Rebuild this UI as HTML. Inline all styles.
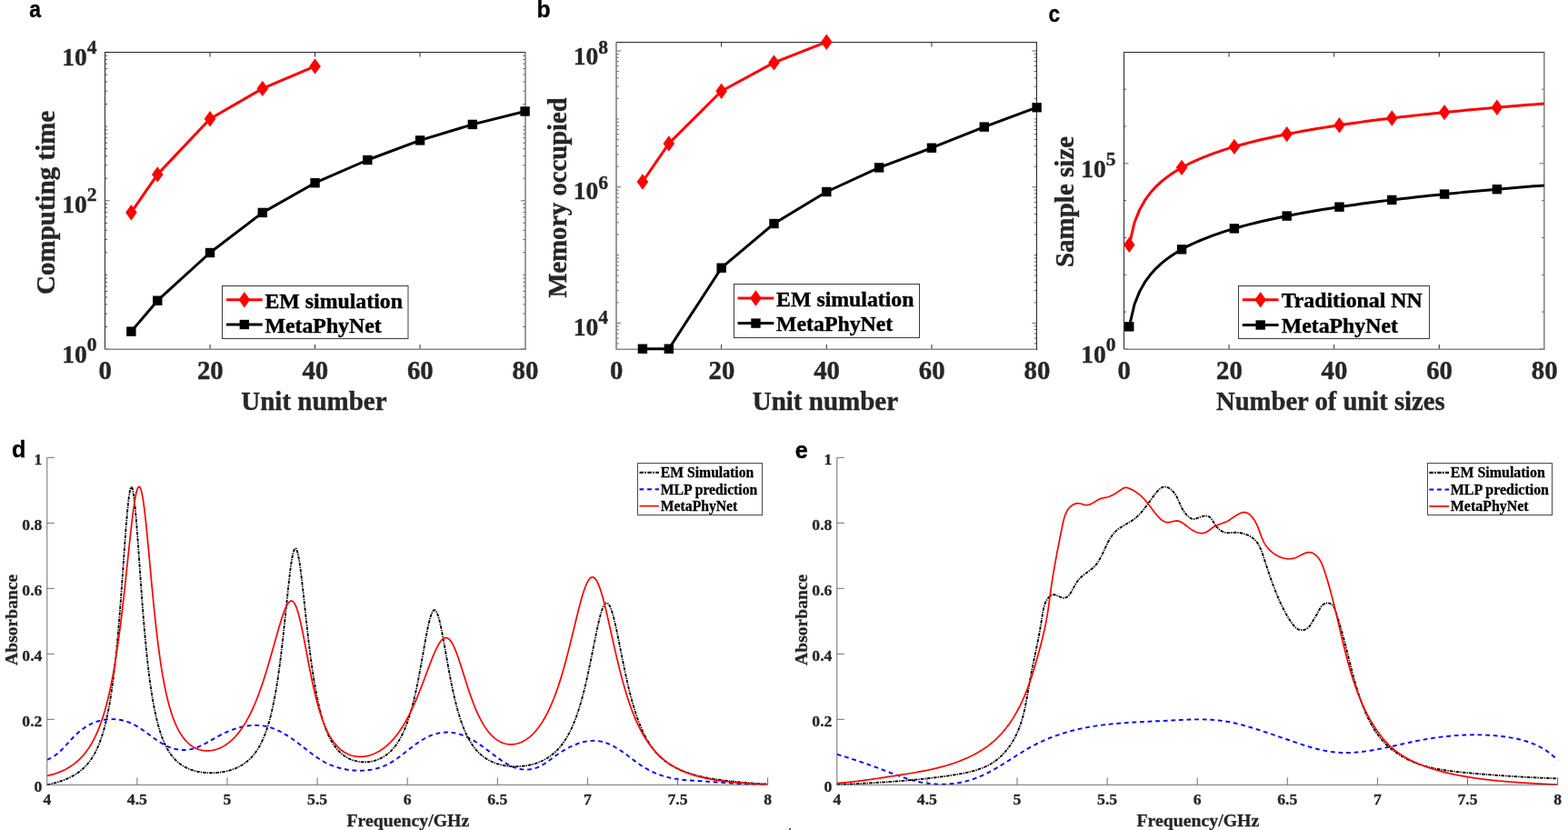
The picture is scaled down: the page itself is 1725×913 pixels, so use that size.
<!DOCTYPE html>
<html lang="en"><head><meta charset="utf-8"><title>Figure</title>
<style>
html,body{margin:0;padding:0;background:#fff;}
body{width:1725px;height:913px;overflow:hidden;}
</style></head>
<body>
<svg width="1725" height="913" viewBox="0 0 1725 913" style="display:block">
<rect width="1725" height="913" fill="#ffffff"/>
<rect x="115.50" y="57.50" width="462.10" height="326.50" fill="#fff" stroke="none"/>
<line x1="231.03" y1="384.00" x2="231.03" y2="379.00" stroke="#262626" stroke-width="1" />
<line x1="231.03" y1="57.50" x2="231.03" y2="62.50" stroke="#262626" stroke-width="1" />
<line x1="346.55" y1="384.00" x2="346.55" y2="379.00" stroke="#262626" stroke-width="1" />
<line x1="346.55" y1="57.50" x2="346.55" y2="62.50" stroke="#262626" stroke-width="1" />
<line x1="462.07" y1="384.00" x2="462.07" y2="379.00" stroke="#262626" stroke-width="1" />
<line x1="462.07" y1="57.50" x2="462.07" y2="62.50" stroke="#262626" stroke-width="1" />
<line x1="115.50" y1="384.00" x2="120.50" y2="384.00" stroke="#7a7a7a" stroke-width="1.2" />
<line x1="578.00" y1="384.00" x2="573.00" y2="384.00" stroke="#7a7a7a" stroke-width="1.2" />
<line x1="115.50" y1="359.43" x2="118.10" y2="359.43" stroke="#262626" stroke-width="0.8" />
<line x1="578.00" y1="359.43" x2="575.40" y2="359.43" stroke="#262626" stroke-width="0.8" />
<line x1="115.50" y1="345.05" x2="118.10" y2="345.05" stroke="#262626" stroke-width="0.8" />
<line x1="578.00" y1="345.05" x2="575.40" y2="345.05" stroke="#262626" stroke-width="0.8" />
<line x1="115.50" y1="334.86" x2="118.10" y2="334.86" stroke="#262626" stroke-width="0.8" />
<line x1="578.00" y1="334.86" x2="575.40" y2="334.86" stroke="#262626" stroke-width="0.8" />
<line x1="115.50" y1="326.95" x2="118.10" y2="326.95" stroke="#262626" stroke-width="0.8" />
<line x1="578.00" y1="326.95" x2="575.40" y2="326.95" stroke="#262626" stroke-width="0.8" />
<line x1="115.50" y1="320.48" x2="118.10" y2="320.48" stroke="#262626" stroke-width="0.8" />
<line x1="578.00" y1="320.48" x2="575.40" y2="320.48" stroke="#262626" stroke-width="0.8" />
<line x1="115.50" y1="315.02" x2="118.10" y2="315.02" stroke="#262626" stroke-width="0.8" />
<line x1="578.00" y1="315.02" x2="575.40" y2="315.02" stroke="#262626" stroke-width="0.8" />
<line x1="115.50" y1="310.29" x2="118.10" y2="310.29" stroke="#262626" stroke-width="0.8" />
<line x1="578.00" y1="310.29" x2="575.40" y2="310.29" stroke="#262626" stroke-width="0.8" />
<line x1="115.50" y1="306.11" x2="118.10" y2="306.11" stroke="#262626" stroke-width="0.8" />
<line x1="578.00" y1="306.11" x2="575.40" y2="306.11" stroke="#262626" stroke-width="0.8" />
<line x1="115.50" y1="302.38" x2="118.10" y2="302.38" stroke="#262626" stroke-width="0.8" />
<line x1="578.00" y1="302.38" x2="575.40" y2="302.38" stroke="#262626" stroke-width="0.8" />
<line x1="115.50" y1="277.80" x2="118.10" y2="277.80" stroke="#262626" stroke-width="0.8" />
<line x1="578.00" y1="277.80" x2="575.40" y2="277.80" stroke="#262626" stroke-width="0.8" />
<line x1="115.50" y1="263.43" x2="118.10" y2="263.43" stroke="#262626" stroke-width="0.8" />
<line x1="578.00" y1="263.43" x2="575.40" y2="263.43" stroke="#262626" stroke-width="0.8" />
<line x1="115.50" y1="253.23" x2="118.10" y2="253.23" stroke="#262626" stroke-width="0.8" />
<line x1="578.00" y1="253.23" x2="575.40" y2="253.23" stroke="#262626" stroke-width="0.8" />
<line x1="115.50" y1="245.32" x2="118.10" y2="245.32" stroke="#262626" stroke-width="0.8" />
<line x1="578.00" y1="245.32" x2="575.40" y2="245.32" stroke="#262626" stroke-width="0.8" />
<line x1="115.50" y1="238.86" x2="118.10" y2="238.86" stroke="#262626" stroke-width="0.8" />
<line x1="578.00" y1="238.86" x2="575.40" y2="238.86" stroke="#262626" stroke-width="0.8" />
<line x1="115.50" y1="233.39" x2="118.10" y2="233.39" stroke="#262626" stroke-width="0.8" />
<line x1="578.00" y1="233.39" x2="575.40" y2="233.39" stroke="#262626" stroke-width="0.8" />
<line x1="115.50" y1="228.66" x2="118.10" y2="228.66" stroke="#262626" stroke-width="0.8" />
<line x1="578.00" y1="228.66" x2="575.40" y2="228.66" stroke="#262626" stroke-width="0.8" />
<line x1="115.50" y1="224.48" x2="118.10" y2="224.48" stroke="#262626" stroke-width="0.8" />
<line x1="578.00" y1="224.48" x2="575.40" y2="224.48" stroke="#262626" stroke-width="0.8" />
<line x1="115.50" y1="220.75" x2="120.50" y2="220.75" stroke="#7a7a7a" stroke-width="1.2" />
<line x1="578.00" y1="220.75" x2="573.00" y2="220.75" stroke="#7a7a7a" stroke-width="1.2" />
<line x1="115.50" y1="196.18" x2="118.10" y2="196.18" stroke="#262626" stroke-width="0.8" />
<line x1="578.00" y1="196.18" x2="575.40" y2="196.18" stroke="#262626" stroke-width="0.8" />
<line x1="115.50" y1="181.80" x2="118.10" y2="181.80" stroke="#262626" stroke-width="0.8" />
<line x1="578.00" y1="181.80" x2="575.40" y2="181.80" stroke="#262626" stroke-width="0.8" />
<line x1="115.50" y1="171.61" x2="118.10" y2="171.61" stroke="#262626" stroke-width="0.8" />
<line x1="578.00" y1="171.61" x2="575.40" y2="171.61" stroke="#262626" stroke-width="0.8" />
<line x1="115.50" y1="163.70" x2="118.10" y2="163.70" stroke="#262626" stroke-width="0.8" />
<line x1="578.00" y1="163.70" x2="575.40" y2="163.70" stroke="#262626" stroke-width="0.8" />
<line x1="115.50" y1="157.23" x2="118.10" y2="157.23" stroke="#262626" stroke-width="0.8" />
<line x1="578.00" y1="157.23" x2="575.40" y2="157.23" stroke="#262626" stroke-width="0.8" />
<line x1="115.50" y1="151.77" x2="118.10" y2="151.77" stroke="#262626" stroke-width="0.8" />
<line x1="578.00" y1="151.77" x2="575.40" y2="151.77" stroke="#262626" stroke-width="0.8" />
<line x1="115.50" y1="147.04" x2="118.10" y2="147.04" stroke="#262626" stroke-width="0.8" />
<line x1="578.00" y1="147.04" x2="575.40" y2="147.04" stroke="#262626" stroke-width="0.8" />
<line x1="115.50" y1="142.86" x2="118.10" y2="142.86" stroke="#262626" stroke-width="0.8" />
<line x1="578.00" y1="142.86" x2="575.40" y2="142.86" stroke="#262626" stroke-width="0.8" />
<line x1="115.50" y1="139.12" x2="118.10" y2="139.12" stroke="#262626" stroke-width="0.8" />
<line x1="578.00" y1="139.12" x2="575.40" y2="139.12" stroke="#262626" stroke-width="0.8" />
<line x1="115.50" y1="114.55" x2="118.10" y2="114.55" stroke="#262626" stroke-width="0.8" />
<line x1="578.00" y1="114.55" x2="575.40" y2="114.55" stroke="#262626" stroke-width="0.8" />
<line x1="115.50" y1="100.18" x2="118.10" y2="100.18" stroke="#262626" stroke-width="0.8" />
<line x1="578.00" y1="100.18" x2="575.40" y2="100.18" stroke="#262626" stroke-width="0.8" />
<line x1="115.50" y1="89.98" x2="118.10" y2="89.98" stroke="#262626" stroke-width="0.8" />
<line x1="578.00" y1="89.98" x2="575.40" y2="89.98" stroke="#262626" stroke-width="0.8" />
<line x1="115.50" y1="82.07" x2="118.10" y2="82.07" stroke="#262626" stroke-width="0.8" />
<line x1="578.00" y1="82.07" x2="575.40" y2="82.07" stroke="#262626" stroke-width="0.8" />
<line x1="115.50" y1="75.61" x2="118.10" y2="75.61" stroke="#262626" stroke-width="0.8" />
<line x1="578.00" y1="75.61" x2="575.40" y2="75.61" stroke="#262626" stroke-width="0.8" />
<line x1="115.50" y1="70.14" x2="118.10" y2="70.14" stroke="#262626" stroke-width="0.8" />
<line x1="578.00" y1="70.14" x2="575.40" y2="70.14" stroke="#262626" stroke-width="0.8" />
<line x1="115.50" y1="65.41" x2="118.10" y2="65.41" stroke="#262626" stroke-width="0.8" />
<line x1="578.00" y1="65.41" x2="575.40" y2="65.41" stroke="#262626" stroke-width="0.8" />
<line x1="115.50" y1="61.23" x2="118.10" y2="61.23" stroke="#262626" stroke-width="0.8" />
<line x1="578.00" y1="61.23" x2="575.40" y2="61.23" stroke="#262626" stroke-width="0.8" />
<line x1="115.50" y1="57.50" x2="120.50" y2="57.50" stroke="#7a7a7a" stroke-width="1.2" />
<line x1="578.00" y1="57.50" x2="573.00" y2="57.50" stroke="#7a7a7a" stroke-width="1.2" />
<line x1="115.00" y1="57.50" x2="578.50" y2="57.50" stroke="#262626" stroke-width="1" />
<line x1="115.50" y1="57.50" x2="115.50" y2="384.50" stroke="#262626" stroke-width="1" />
<line x1="115.00" y1="384.25" x2="578.90" y2="384.25" stroke="#8a8a8a" stroke-width="1.5" />
<line x1="578.00" y1="57.50" x2="578.00" y2="384.90" stroke="#8a8a8a" stroke-width="1.7" />
<text x="115.80" y="417.00" font-family='"Liberation Serif", "DejaVu Serif", serif' font-size="28.8" font-weight="bold" text-anchor="middle" fill="#262626" stroke="#262626" stroke-width="0.4" stroke-linejoin="round" >0</text>
<text x="231.33" y="417.00" font-family='"Liberation Serif", "DejaVu Serif", serif' font-size="28.8" font-weight="bold" text-anchor="middle" fill="#262626" stroke="#262626" stroke-width="0.4" stroke-linejoin="round" >20</text>
<text x="346.85" y="417.00" font-family='"Liberation Serif", "DejaVu Serif", serif' font-size="28.8" font-weight="bold" text-anchor="middle" fill="#262626" stroke="#262626" stroke-width="0.4" stroke-linejoin="round" >40</text>
<text x="462.38" y="417.00" font-family='"Liberation Serif", "DejaVu Serif", serif' font-size="28.8" font-weight="bold" text-anchor="middle" fill="#262626" stroke="#262626" stroke-width="0.4" stroke-linejoin="round" >60</text>
<text x="577.90" y="417.00" font-family='"Liberation Serif", "DejaVu Serif", serif' font-size="28.8" font-weight="bold" text-anchor="middle" fill="#262626" stroke="#262626" stroke-width="0.4" stroke-linejoin="round" >80</text>
<text x="106.50" y="71.65" font-family='"Liberation Serif", "DejaVu Serif", serif' font-weight="bold" text-anchor="end" fill="#262626" stroke="#262626" stroke-width="0.4" stroke-linejoin="round" font-size="27.5">10<tspan font-size="21.5" dy="-13.0">4</tspan></text>
<text x="106.50" y="234.20" font-family='"Liberation Serif", "DejaVu Serif", serif' font-weight="bold" text-anchor="end" fill="#262626" stroke="#262626" stroke-width="0.4" stroke-linejoin="round" font-size="27.5">10<tspan font-size="21.5" dy="-13.4">2</tspan></text>
<text x="106.50" y="399.30" font-family='"Liberation Serif", "DejaVu Serif", serif' font-weight="bold" text-anchor="end" fill="#262626" stroke="#262626" stroke-width="0.4" stroke-linejoin="round" font-size="27.5">10<tspan font-size="21.5" dy="-13.0">0</tspan></text>
<text x="345.45" y="451.30" font-family='"Liberation Serif", "DejaVu Serif", serif' font-size="29" font-weight="bold" text-anchor="middle" fill="#262626" stroke="#262626" stroke-width="0.4" stroke-linejoin="round" >Unit number</text>
<text transform="translate(59.80 222.80) rotate(-90)" font-family='"Liberation Serif", "DejaVu Serif", serif' font-size="29" font-weight="bold" text-anchor="middle" fill="#262626" stroke="#262626" stroke-width="0.4" stroke-linejoin="round">Computing time</text>
<path d="M144.38 233.70L173.26 191.90L231.03 130.70L288.79 97.40L346.55 72.90" fill="none" stroke="#ff0000" stroke-width="3.0" stroke-linejoin="round" />
<path d="M144.38 364.60L173.26 330.70L231.03 278.00L288.79 233.90L346.55 201.20L404.31 176.00L462.07 154.40L519.84 136.90L577.60 122.50" fill="none" stroke="#000000" stroke-width="3.0" stroke-linejoin="round" />
<path d="M144.38 225.00L150.68 233.70L144.38 242.40L138.08 233.70Z" fill="#ff0000"/>
<path d="M173.26 183.20L179.56 191.90L173.26 200.60L166.96 191.90Z" fill="#ff0000"/>
<path d="M231.03 122.00L237.33 130.70L231.03 139.40L224.72 130.70Z" fill="#ff0000"/>
<path d="M288.79 88.70L295.09 97.40L288.79 106.10L282.49 97.40Z" fill="#ff0000"/>
<path d="M346.55 64.20L352.85 72.90L346.55 81.60L340.25 72.90Z" fill="#ff0000"/>
<rect x="139.18" y="359.40" width="10.40" height="10.40" fill="#000000"/>
<rect x="168.06" y="325.50" width="10.40" height="10.40" fill="#000000"/>
<rect x="225.83" y="272.80" width="10.40" height="10.40" fill="#000000"/>
<rect x="283.59" y="228.70" width="10.40" height="10.40" fill="#000000"/>
<rect x="341.35" y="196.00" width="10.40" height="10.40" fill="#000000"/>
<rect x="399.11" y="170.80" width="10.40" height="10.40" fill="#000000"/>
<rect x="456.88" y="149.20" width="10.40" height="10.40" fill="#000000"/>
<rect x="514.64" y="131.70" width="10.40" height="10.40" fill="#000000"/>
<rect x="572.40" y="117.30" width="10.40" height="10.40" fill="#000000"/>
<rect x="244.50" y="314.50" width="204.50" height="58.00" fill="#fff" stroke="#262626" stroke-width="0.9"/>
<line x1="249.00" y1="329.80" x2="288.70" y2="329.80" stroke="#ff0000" stroke-width="3.0" />
<path d="M268.85 321.10L275.15 329.80L268.85 338.50L262.55 329.80Z" fill="#ff0000"/>
<text x="291.50" y="338.50" font-family='"Liberation Serif", "DejaVu Serif", serif' font-size="23.8" font-weight="bold" text-anchor="start" fill="#000" stroke="#000" stroke-width="0.4" stroke-linejoin="round" >EM simulation</text>
<line x1="249.00" y1="357.00" x2="288.70" y2="357.00" stroke="#000000" stroke-width="3.0" />
<rect x="263.65" y="351.80" width="10.40" height="10.40" fill="#000000"/>
<text x="291.50" y="365.70" font-family='"Liberation Serif", "DejaVu Serif", serif' font-size="23.8" font-weight="bold" text-anchor="start" fill="#000" stroke="#000" stroke-width="0.4" stroke-linejoin="round" >MetaPhyNet</text>
<rect x="678.00" y="46.50" width="462.60" height="337.50" fill="#fff" stroke="none"/>
<line x1="793.65" y1="384.00" x2="793.65" y2="379.00" stroke="#262626" stroke-width="1" />
<line x1="793.65" y1="46.50" x2="793.65" y2="51.50" stroke="#262626" stroke-width="1" />
<line x1="909.30" y1="384.00" x2="909.30" y2="379.00" stroke="#262626" stroke-width="1" />
<line x1="909.30" y1="46.50" x2="909.30" y2="51.50" stroke="#262626" stroke-width="1" />
<line x1="1024.95" y1="384.00" x2="1024.95" y2="379.00" stroke="#262626" stroke-width="1" />
<line x1="1024.95" y1="46.50" x2="1024.95" y2="51.50" stroke="#262626" stroke-width="1" />
<line x1="678.00" y1="377.93" x2="680.60" y2="377.93" stroke="#262626" stroke-width="0.8" />
<line x1="1140.50" y1="377.93" x2="1137.90" y2="377.93" stroke="#262626" stroke-width="0.8" />
<line x1="678.00" y1="372.01" x2="680.60" y2="372.01" stroke="#262626" stroke-width="0.8" />
<line x1="1140.50" y1="372.01" x2="1137.90" y2="372.01" stroke="#262626" stroke-width="0.8" />
<line x1="678.00" y1="366.99" x2="680.60" y2="366.99" stroke="#262626" stroke-width="0.8" />
<line x1="1140.50" y1="366.99" x2="1137.90" y2="366.99" stroke="#262626" stroke-width="0.8" />
<line x1="678.00" y1="362.65" x2="680.60" y2="362.65" stroke="#262626" stroke-width="0.8" />
<line x1="1140.50" y1="362.65" x2="1137.90" y2="362.65" stroke="#262626" stroke-width="0.8" />
<line x1="678.00" y1="358.82" x2="680.60" y2="358.82" stroke="#262626" stroke-width="0.8" />
<line x1="1140.50" y1="358.82" x2="1137.90" y2="358.82" stroke="#262626" stroke-width="0.8" />
<line x1="678.00" y1="355.40" x2="683.00" y2="355.40" stroke="#7a7a7a" stroke-width="1.2" />
<line x1="1140.50" y1="355.40" x2="1135.50" y2="355.40" stroke="#7a7a7a" stroke-width="1.2" />
<line x1="678.00" y1="332.87" x2="680.60" y2="332.87" stroke="#262626" stroke-width="0.8" />
<line x1="1140.50" y1="332.87" x2="1137.90" y2="332.87" stroke="#262626" stroke-width="0.8" />
<line x1="678.00" y1="319.69" x2="680.60" y2="319.69" stroke="#262626" stroke-width="0.8" />
<line x1="1140.50" y1="319.69" x2="1137.90" y2="319.69" stroke="#262626" stroke-width="0.8" />
<line x1="678.00" y1="310.34" x2="680.60" y2="310.34" stroke="#262626" stroke-width="0.8" />
<line x1="1140.50" y1="310.34" x2="1137.90" y2="310.34" stroke="#262626" stroke-width="0.8" />
<line x1="678.00" y1="303.08" x2="680.60" y2="303.08" stroke="#262626" stroke-width="0.8" />
<line x1="1140.50" y1="303.08" x2="1137.90" y2="303.08" stroke="#262626" stroke-width="0.8" />
<line x1="678.00" y1="297.16" x2="680.60" y2="297.16" stroke="#262626" stroke-width="0.8" />
<line x1="1140.50" y1="297.16" x2="1137.90" y2="297.16" stroke="#262626" stroke-width="0.8" />
<line x1="678.00" y1="292.14" x2="680.60" y2="292.14" stroke="#262626" stroke-width="0.8" />
<line x1="1140.50" y1="292.14" x2="1137.90" y2="292.14" stroke="#262626" stroke-width="0.8" />
<line x1="678.00" y1="287.80" x2="680.60" y2="287.80" stroke="#262626" stroke-width="0.8" />
<line x1="1140.50" y1="287.80" x2="1137.90" y2="287.80" stroke="#262626" stroke-width="0.8" />
<line x1="678.00" y1="283.97" x2="680.60" y2="283.97" stroke="#262626" stroke-width="0.8" />
<line x1="1140.50" y1="283.97" x2="1137.90" y2="283.97" stroke="#262626" stroke-width="0.8" />
<line x1="678.00" y1="280.55" x2="680.60" y2="280.55" stroke="#262626" stroke-width="0.8" />
<line x1="1140.50" y1="280.55" x2="1137.90" y2="280.55" stroke="#262626" stroke-width="0.8" />
<line x1="678.00" y1="258.02" x2="680.60" y2="258.02" stroke="#262626" stroke-width="0.8" />
<line x1="1140.50" y1="258.02" x2="1137.90" y2="258.02" stroke="#262626" stroke-width="0.8" />
<line x1="678.00" y1="244.84" x2="680.60" y2="244.84" stroke="#262626" stroke-width="0.8" />
<line x1="1140.50" y1="244.84" x2="1137.90" y2="244.84" stroke="#262626" stroke-width="0.8" />
<line x1="678.00" y1="235.49" x2="680.60" y2="235.49" stroke="#262626" stroke-width="0.8" />
<line x1="1140.50" y1="235.49" x2="1137.90" y2="235.49" stroke="#262626" stroke-width="0.8" />
<line x1="678.00" y1="228.23" x2="680.60" y2="228.23" stroke="#262626" stroke-width="0.8" />
<line x1="1140.50" y1="228.23" x2="1137.90" y2="228.23" stroke="#262626" stroke-width="0.8" />
<line x1="678.00" y1="222.31" x2="680.60" y2="222.31" stroke="#262626" stroke-width="0.8" />
<line x1="1140.50" y1="222.31" x2="1137.90" y2="222.31" stroke="#262626" stroke-width="0.8" />
<line x1="678.00" y1="217.29" x2="680.60" y2="217.29" stroke="#262626" stroke-width="0.8" />
<line x1="1140.50" y1="217.29" x2="1137.90" y2="217.29" stroke="#262626" stroke-width="0.8" />
<line x1="678.00" y1="212.95" x2="680.60" y2="212.95" stroke="#262626" stroke-width="0.8" />
<line x1="1140.50" y1="212.95" x2="1137.90" y2="212.95" stroke="#262626" stroke-width="0.8" />
<line x1="678.00" y1="209.12" x2="680.60" y2="209.12" stroke="#262626" stroke-width="0.8" />
<line x1="1140.50" y1="209.12" x2="1137.90" y2="209.12" stroke="#262626" stroke-width="0.8" />
<line x1="678.00" y1="205.70" x2="683.00" y2="205.70" stroke="#7a7a7a" stroke-width="1.2" />
<line x1="1140.50" y1="205.70" x2="1135.50" y2="205.70" stroke="#7a7a7a" stroke-width="1.2" />
<line x1="678.00" y1="183.17" x2="680.60" y2="183.17" stroke="#262626" stroke-width="0.8" />
<line x1="1140.50" y1="183.17" x2="1137.90" y2="183.17" stroke="#262626" stroke-width="0.8" />
<line x1="678.00" y1="169.99" x2="680.60" y2="169.99" stroke="#262626" stroke-width="0.8" />
<line x1="1140.50" y1="169.99" x2="1137.90" y2="169.99" stroke="#262626" stroke-width="0.8" />
<line x1="678.00" y1="160.64" x2="680.60" y2="160.64" stroke="#262626" stroke-width="0.8" />
<line x1="1140.50" y1="160.64" x2="1137.90" y2="160.64" stroke="#262626" stroke-width="0.8" />
<line x1="678.00" y1="153.38" x2="680.60" y2="153.38" stroke="#262626" stroke-width="0.8" />
<line x1="1140.50" y1="153.38" x2="1137.90" y2="153.38" stroke="#262626" stroke-width="0.8" />
<line x1="678.00" y1="147.46" x2="680.60" y2="147.46" stroke="#262626" stroke-width="0.8" />
<line x1="1140.50" y1="147.46" x2="1137.90" y2="147.46" stroke="#262626" stroke-width="0.8" />
<line x1="678.00" y1="142.44" x2="680.60" y2="142.44" stroke="#262626" stroke-width="0.8" />
<line x1="1140.50" y1="142.44" x2="1137.90" y2="142.44" stroke="#262626" stroke-width="0.8" />
<line x1="678.00" y1="138.10" x2="680.60" y2="138.10" stroke="#262626" stroke-width="0.8" />
<line x1="1140.50" y1="138.10" x2="1137.90" y2="138.10" stroke="#262626" stroke-width="0.8" />
<line x1="678.00" y1="134.27" x2="680.60" y2="134.27" stroke="#262626" stroke-width="0.8" />
<line x1="1140.50" y1="134.27" x2="1137.90" y2="134.27" stroke="#262626" stroke-width="0.8" />
<line x1="678.00" y1="130.85" x2="680.60" y2="130.85" stroke="#262626" stroke-width="0.8" />
<line x1="1140.50" y1="130.85" x2="1137.90" y2="130.85" stroke="#262626" stroke-width="0.8" />
<line x1="678.00" y1="108.32" x2="680.60" y2="108.32" stroke="#262626" stroke-width="0.8" />
<line x1="1140.50" y1="108.32" x2="1137.90" y2="108.32" stroke="#262626" stroke-width="0.8" />
<line x1="678.00" y1="95.14" x2="680.60" y2="95.14" stroke="#262626" stroke-width="0.8" />
<line x1="1140.50" y1="95.14" x2="1137.90" y2="95.14" stroke="#262626" stroke-width="0.8" />
<line x1="678.00" y1="85.79" x2="680.60" y2="85.79" stroke="#262626" stroke-width="0.8" />
<line x1="1140.50" y1="85.79" x2="1137.90" y2="85.79" stroke="#262626" stroke-width="0.8" />
<line x1="678.00" y1="78.53" x2="680.60" y2="78.53" stroke="#262626" stroke-width="0.8" />
<line x1="1140.50" y1="78.53" x2="1137.90" y2="78.53" stroke="#262626" stroke-width="0.8" />
<line x1="678.00" y1="72.61" x2="680.60" y2="72.61" stroke="#262626" stroke-width="0.8" />
<line x1="1140.50" y1="72.61" x2="1137.90" y2="72.61" stroke="#262626" stroke-width="0.8" />
<line x1="678.00" y1="67.59" x2="680.60" y2="67.59" stroke="#262626" stroke-width="0.8" />
<line x1="1140.50" y1="67.59" x2="1137.90" y2="67.59" stroke="#262626" stroke-width="0.8" />
<line x1="678.00" y1="63.25" x2="680.60" y2="63.25" stroke="#262626" stroke-width="0.8" />
<line x1="1140.50" y1="63.25" x2="1137.90" y2="63.25" stroke="#262626" stroke-width="0.8" />
<line x1="678.00" y1="59.42" x2="680.60" y2="59.42" stroke="#262626" stroke-width="0.8" />
<line x1="1140.50" y1="59.42" x2="1137.90" y2="59.42" stroke="#262626" stroke-width="0.8" />
<line x1="678.00" y1="56.00" x2="683.00" y2="56.00" stroke="#7a7a7a" stroke-width="1.2" />
<line x1="1140.50" y1="56.00" x2="1135.50" y2="56.00" stroke="#7a7a7a" stroke-width="1.2" />
<line x1="677.50" y1="46.50" x2="1141.00" y2="46.50" stroke="#262626" stroke-width="1" />
<line x1="678.00" y1="46.50" x2="678.00" y2="384.50" stroke="#8a8a8a" stroke-width="1.7" />
<line x1="677.50" y1="384.25" x2="1141.40" y2="384.25" stroke="#8a8a8a" stroke-width="1.5" />
<line x1="1140.50" y1="46.50" x2="1140.50" y2="384.90" stroke="#262626" stroke-width="1" />
<text x="678.30" y="417.00" font-family='"Liberation Serif", "DejaVu Serif", serif' font-size="28.8" font-weight="bold" text-anchor="middle" fill="#262626" stroke="#262626" stroke-width="0.4" stroke-linejoin="round" >0</text>
<text x="793.95" y="417.00" font-family='"Liberation Serif", "DejaVu Serif", serif' font-size="28.8" font-weight="bold" text-anchor="middle" fill="#262626" stroke="#262626" stroke-width="0.4" stroke-linejoin="round" >20</text>
<text x="909.60" y="417.00" font-family='"Liberation Serif", "DejaVu Serif", serif' font-size="28.8" font-weight="bold" text-anchor="middle" fill="#262626" stroke="#262626" stroke-width="0.4" stroke-linejoin="round" >40</text>
<text x="1025.25" y="417.00" font-family='"Liberation Serif", "DejaVu Serif", serif' font-size="28.8" font-weight="bold" text-anchor="middle" fill="#262626" stroke="#262626" stroke-width="0.4" stroke-linejoin="round" >60</text>
<text x="1140.90" y="417.00" font-family='"Liberation Serif", "DejaVu Serif", serif' font-size="28.8" font-weight="bold" text-anchor="middle" fill="#262626" stroke="#262626" stroke-width="0.4" stroke-linejoin="round" >80</text>
<text x="669.00" y="71.40" font-family='"Liberation Serif", "DejaVu Serif", serif' font-weight="bold" text-anchor="end" fill="#262626" stroke="#262626" stroke-width="0.4" stroke-linejoin="round" font-size="27.5">10<tspan font-size="21.5" dy="-12.3">8</tspan></text>
<text x="669.00" y="218.96" font-family='"Liberation Serif", "DejaVu Serif", serif' font-weight="bold" text-anchor="end" fill="#262626" stroke="#262626" stroke-width="0.4" stroke-linejoin="round" font-size="27.5">10<tspan font-size="21.5" dy="-11.4">6</tspan></text>
<text x="669.00" y="368.60" font-family='"Liberation Serif", "DejaVu Serif", serif' font-weight="bold" text-anchor="end" fill="#262626" stroke="#262626" stroke-width="0.4" stroke-linejoin="round" font-size="27.5">10<tspan font-size="21.5" dy="-13.1">4</tspan></text>
<text x="907.90" y="451.30" font-family='"Liberation Serif", "DejaVu Serif", serif' font-size="29" font-weight="bold" text-anchor="middle" fill="#262626" stroke="#262626" stroke-width="0.4" stroke-linejoin="round" >Unit number</text>
<text transform="translate(622.80 217.40) rotate(-90)" font-family='"Liberation Serif", "DejaVu Serif", serif' font-size="29" font-weight="bold" text-anchor="middle" fill="#262626" stroke="#262626" stroke-width="0.4" stroke-linejoin="round" textLength="220.2" lengthAdjust="spacingAndGlyphs">Memory occupied</text>
<path d="M706.91 200.00L735.83 157.90L793.65 100.30L851.47 68.90L909.30 46.20" fill="none" stroke="#ff0000" stroke-width="3.0" stroke-linejoin="round" />
<path d="M706.91 383.70L735.83 383.70L793.65 294.70L851.47 246.00L909.30 211.00L967.12 184.40L1024.95 162.70L1082.77 139.60L1140.60 118.20" fill="none" stroke="#000000" stroke-width="3.0" stroke-linejoin="round" />
<path d="M706.91 191.30L713.21 200.00L706.91 208.70L700.61 200.00Z" fill="#ff0000"/>
<path d="M735.83 149.20L742.12 157.90L735.83 166.60L729.53 157.90Z" fill="#ff0000"/>
<path d="M793.65 91.60L799.95 100.30L793.65 109.00L787.35 100.30Z" fill="#ff0000"/>
<path d="M851.47 60.20L857.77 68.90L851.47 77.60L845.17 68.90Z" fill="#ff0000"/>
<path d="M909.30 37.50L915.60 46.20L909.30 54.90L903.00 46.20Z" fill="#ff0000"/>
<rect x="701.71" y="378.50" width="10.40" height="10.40" fill="#000000"/>
<rect x="730.62" y="378.50" width="10.40" height="10.40" fill="#000000"/>
<rect x="788.45" y="289.50" width="10.40" height="10.40" fill="#000000"/>
<rect x="846.27" y="240.80" width="10.40" height="10.40" fill="#000000"/>
<rect x="904.10" y="205.80" width="10.40" height="10.40" fill="#000000"/>
<rect x="961.92" y="179.20" width="10.40" height="10.40" fill="#000000"/>
<rect x="1019.75" y="157.50" width="10.40" height="10.40" fill="#000000"/>
<rect x="1077.57" y="134.40" width="10.40" height="10.40" fill="#000000"/>
<rect x="1135.40" y="113.00" width="10.40" height="10.40" fill="#000000"/>
<rect x="807.50" y="312.50" width="204.00" height="59.00" fill="#fff" stroke="#262626" stroke-width="0.9"/>
<line x1="811.60" y1="328.00" x2="851.30" y2="328.00" stroke="#ff0000" stroke-width="3.0" />
<path d="M831.45 319.30L837.75 328.00L831.45 336.70L825.15 328.00Z" fill="#ff0000"/>
<text x="854.10" y="336.70" font-family='"Liberation Serif", "DejaVu Serif", serif' font-size="23.8" font-weight="bold" text-anchor="start" fill="#000" stroke="#000" stroke-width="0.4" stroke-linejoin="round" >EM simulation</text>
<line x1="811.60" y1="355.60" x2="851.30" y2="355.60" stroke="#000000" stroke-width="3.0" />
<rect x="826.25" y="350.40" width="10.40" height="10.40" fill="#000000"/>
<text x="854.10" y="364.30" font-family='"Liberation Serif", "DejaVu Serif", serif' font-size="23.8" font-weight="bold" text-anchor="start" fill="#000" stroke="#000" stroke-width="0.4" stroke-linejoin="round" >MetaPhyNet</text>
<rect x="1236.50" y="57.50" width="462.40" height="326.50" fill="#fff" stroke="none"/>
<line x1="1352.10" y1="384.00" x2="1352.10" y2="379.00" stroke="#262626" stroke-width="1" />
<line x1="1352.10" y1="57.50" x2="1352.10" y2="62.50" stroke="#262626" stroke-width="1" />
<line x1="1467.70" y1="384.00" x2="1467.70" y2="379.00" stroke="#262626" stroke-width="1" />
<line x1="1467.70" y1="57.50" x2="1467.70" y2="62.50" stroke="#262626" stroke-width="1" />
<line x1="1583.30" y1="384.00" x2="1583.30" y2="379.00" stroke="#262626" stroke-width="1" />
<line x1="1583.30" y1="57.50" x2="1583.30" y2="62.50" stroke="#262626" stroke-width="1" />
<line x1="1236.50" y1="383.90" x2="1241.50" y2="383.90" stroke="#7a7a7a" stroke-width="1.2" />
<line x1="1698.80" y1="383.90" x2="1693.80" y2="383.90" stroke="#7a7a7a" stroke-width="1.2" />
<line x1="1236.50" y1="343.08" x2="1239.10" y2="343.08" stroke="#262626" stroke-width="0.8" />
<line x1="1698.80" y1="343.08" x2="1696.20" y2="343.08" stroke="#262626" stroke-width="0.8" />
<line x1="1236.50" y1="302.26" x2="1239.10" y2="302.26" stroke="#262626" stroke-width="0.8" />
<line x1="1698.80" y1="302.26" x2="1696.20" y2="302.26" stroke="#262626" stroke-width="0.8" />
<line x1="1236.50" y1="261.44" x2="1239.10" y2="261.44" stroke="#262626" stroke-width="0.8" />
<line x1="1698.80" y1="261.44" x2="1696.20" y2="261.44" stroke="#262626" stroke-width="0.8" />
<line x1="1236.50" y1="220.62" x2="1239.10" y2="220.62" stroke="#262626" stroke-width="0.8" />
<line x1="1698.80" y1="220.62" x2="1696.20" y2="220.62" stroke="#262626" stroke-width="0.8" />
<line x1="1236.50" y1="179.80" x2="1241.50" y2="179.80" stroke="#7a7a7a" stroke-width="1.2" />
<line x1="1698.80" y1="179.80" x2="1693.80" y2="179.80" stroke="#7a7a7a" stroke-width="1.2" />
<line x1="1236.50" y1="138.98" x2="1239.10" y2="138.98" stroke="#262626" stroke-width="0.8" />
<line x1="1698.80" y1="138.98" x2="1696.20" y2="138.98" stroke="#262626" stroke-width="0.8" />
<line x1="1236.50" y1="98.16" x2="1239.10" y2="98.16" stroke="#262626" stroke-width="0.8" />
<line x1="1698.80" y1="98.16" x2="1696.20" y2="98.16" stroke="#262626" stroke-width="0.8" />
<line x1="1236.00" y1="57.50" x2="1699.30" y2="57.50" stroke="#262626" stroke-width="1" />
<line x1="1236.50" y1="57.50" x2="1236.50" y2="384.50" stroke="#262626" stroke-width="1" />
<line x1="1236.00" y1="384.25" x2="1699.70" y2="384.25" stroke="#8a8a8a" stroke-width="1.5" />
<line x1="1698.80" y1="57.50" x2="1698.80" y2="384.90" stroke="#8a8a8a" stroke-width="1.7" />
<text x="1236.80" y="417.00" font-family='"Liberation Serif", "DejaVu Serif", serif' font-size="28.8" font-weight="bold" text-anchor="middle" fill="#262626" stroke="#262626" stroke-width="0.4" stroke-linejoin="round" >0</text>
<text x="1352.40" y="417.00" font-family='"Liberation Serif", "DejaVu Serif", serif' font-size="28.8" font-weight="bold" text-anchor="middle" fill="#262626" stroke="#262626" stroke-width="0.4" stroke-linejoin="round" >20</text>
<text x="1468.00" y="417.00" font-family='"Liberation Serif", "DejaVu Serif", serif' font-size="28.8" font-weight="bold" text-anchor="middle" fill="#262626" stroke="#262626" stroke-width="0.4" stroke-linejoin="round" >40</text>
<text x="1583.60" y="417.00" font-family='"Liberation Serif", "DejaVu Serif", serif' font-size="28.8" font-weight="bold" text-anchor="middle" fill="#262626" stroke="#262626" stroke-width="0.4" stroke-linejoin="round" >60</text>
<text x="1699.20" y="417.00" font-family='"Liberation Serif", "DejaVu Serif", serif' font-size="28.8" font-weight="bold" text-anchor="middle" fill="#262626" stroke="#262626" stroke-width="0.4" stroke-linejoin="round" >80</text>
<text x="1227.50" y="195.00" font-family='"Liberation Serif", "DejaVu Serif", serif' font-weight="bold" text-anchor="end" fill="#262626" stroke="#262626" stroke-width="0.4" stroke-linejoin="round" font-size="27.5">10<tspan font-size="21.5" dy="-12.6">5</tspan></text>
<text x="1227.50" y="399.10" font-family='"Liberation Serif", "DejaVu Serif", serif' font-weight="bold" text-anchor="end" fill="#262626" stroke="#262626" stroke-width="0.4" stroke-linejoin="round" font-size="27.5">10<tspan font-size="21.5" dy="-12.8">0</tspan></text>
<text x="1463.80" y="451.30" font-family='"Liberation Serif", "DejaVu Serif", serif' font-size="29" font-weight="bold" text-anchor="middle" fill="#262626" stroke="#262626" stroke-width="0.4" stroke-linejoin="round" textLength="251.6" lengthAdjust="spacingAndGlyphs">Number of unit sizes</text>
<text transform="translate(1181.00 222.00) rotate(-90)" font-family='"Liberation Serif", "DejaVu Serif", serif' font-size="29" font-weight="bold" text-anchor="middle" fill="#262626" stroke="#262626" stroke-width="0.4" stroke-linejoin="round">Sample size</text>
<path d="M1242.28 269.35L1248.06 244.78L1253.84 230.40L1259.62 220.20L1265.40 212.29L1271.18 205.82L1276.96 200.36L1282.74 195.62L1288.52 191.45L1294.30 187.71L1300.08 184.33L1305.86 181.25L1311.64 178.41L1317.42 175.78L1323.20 173.34L1328.98 171.05L1334.76 168.90L1340.54 166.87L1346.32 164.95L1352.10 163.14L1357.88 161.41L1363.66 159.76L1369.44 158.18L1375.22 156.67L1381.00 155.22L1386.78 153.83L1392.56 152.50L1398.34 151.21L1404.12 149.96L1409.90 148.76L1415.68 147.60L1421.46 146.47L1427.24 145.38L1433.02 144.32L1438.80 143.29L1444.58 142.30L1450.36 141.32L1456.14 140.38L1461.92 139.46L1467.70 138.56L1473.48 137.68L1479.26 136.83L1485.04 136.00L1490.82 135.18L1496.60 134.38L1502.38 133.60L1508.16 132.84L1513.94 132.10L1519.72 131.36L1525.50 130.65L1531.28 129.95L1537.06 129.26L1542.84 128.58L1548.62 127.92L1554.40 127.27L1560.18 126.63L1565.96 126.00L1571.74 125.39L1577.52 124.78L1583.30 124.18L1589.08 123.60L1594.86 123.02L1600.64 122.45L1606.42 121.90L1612.20 121.35L1617.98 120.80L1623.76 120.27L1629.54 119.75L1635.32 119.23L1641.10 118.72L1646.88 118.22L1652.66 117.72L1658.44 117.23L1664.22 116.75L1670.00 116.27L1675.78 115.80L1681.56 115.34L1687.34 114.88L1693.12 114.43L1698.90 113.98" fill="none" stroke="#ff0000" stroke-width="3.0" stroke-linejoin="round" />
<path d="M1242.28 359.32L1248.06 334.75L1253.84 320.37L1259.62 310.17L1265.40 302.26L1271.18 295.80L1276.96 290.33L1282.74 285.60L1288.52 281.42L1294.30 277.68L1300.08 274.30L1305.86 271.22L1311.64 268.38L1317.42 265.75L1323.20 263.31L1328.98 261.02L1334.76 258.87L1340.54 256.84L1346.32 254.93L1352.10 253.11L1357.88 251.38L1363.66 249.73L1369.44 248.15L1375.22 246.64L1381.00 245.20L1386.78 243.81L1392.56 242.47L1398.34 241.18L1404.12 239.93L1409.90 238.73L1415.68 237.57L1421.46 236.44L1427.24 235.35L1433.02 234.29L1438.80 233.27L1444.58 232.27L1450.36 231.30L1456.14 230.35L1461.92 229.43L1467.70 228.53L1473.48 227.66L1479.26 226.80L1485.04 225.97L1490.82 225.15L1496.60 224.36L1502.38 223.58L1508.16 222.81L1513.94 222.07L1519.72 221.34L1525.50 220.62L1531.28 219.92L1537.06 219.23L1542.84 218.55L1548.62 217.89L1554.40 217.24L1560.18 216.60L1565.96 215.97L1571.74 215.36L1577.52 214.75L1583.30 214.16L1589.08 213.57L1594.86 212.99L1600.64 212.43L1606.42 211.87L1612.20 211.32L1617.98 210.78L1623.76 210.24L1629.54 209.72L1635.32 209.20L1641.10 208.69L1646.88 208.19L1652.66 207.69L1658.44 207.20L1664.22 206.72L1670.00 206.24L1675.78 205.77L1681.56 205.31L1687.34 204.85L1693.12 204.40L1698.90 203.96" fill="none" stroke="#000000" stroke-width="3.0" stroke-linejoin="round" />
<path d="M1242.28 260.65L1248.58 269.35L1242.28 278.05L1235.98 269.35Z" fill="#ff0000"/>
<path d="M1300.08 175.63L1306.38 184.33L1300.08 193.03L1293.78 184.33Z" fill="#ff0000"/>
<path d="M1357.88 152.71L1364.18 161.41L1357.88 170.11L1351.58 161.41Z" fill="#ff0000"/>
<path d="M1415.68 138.90L1421.98 147.60L1415.68 156.30L1409.38 147.60Z" fill="#ff0000"/>
<path d="M1473.48 128.98L1479.78 137.68L1473.48 146.38L1467.18 137.68Z" fill="#ff0000"/>
<path d="M1531.28 121.25L1537.58 129.95L1531.28 138.65L1524.98 129.95Z" fill="#ff0000"/>
<path d="M1589.08 114.90L1595.38 123.60L1589.08 132.30L1582.78 123.60Z" fill="#ff0000"/>
<path d="M1646.88 109.52L1653.18 118.22L1646.88 126.92L1640.58 118.22Z" fill="#ff0000"/>
<rect x="1237.08" y="354.12" width="10.40" height="10.40" fill="#000000"/>
<rect x="1294.88" y="269.10" width="10.40" height="10.40" fill="#000000"/>
<rect x="1352.68" y="246.18" width="10.40" height="10.40" fill="#000000"/>
<rect x="1410.48" y="232.37" width="10.40" height="10.40" fill="#000000"/>
<rect x="1468.28" y="222.46" width="10.40" height="10.40" fill="#000000"/>
<rect x="1526.08" y="214.72" width="10.40" height="10.40" fill="#000000"/>
<rect x="1583.88" y="208.37" width="10.40" height="10.40" fill="#000000"/>
<rect x="1641.68" y="202.99" width="10.40" height="10.40" fill="#000000"/>
<rect x="1362.50" y="314.50" width="210.00" height="58.00" fill="#fff" stroke="#262626" stroke-width="0.9"/>
<line x1="1366.80" y1="329.70" x2="1406.60" y2="329.70" stroke="#ff0000" stroke-width="3.0" />
<path d="M1386.70 321.00L1393.00 329.70L1386.70 338.40L1380.40 329.70Z" fill="#ff0000"/>
<text x="1409.70" y="338.40" font-family='"Liberation Serif", "DejaVu Serif", serif' font-size="23.8" font-weight="bold" text-anchor="start" fill="#000" stroke="#000" stroke-width="0.4" stroke-linejoin="round" >Traditional NN</text>
<line x1="1366.80" y1="357.50" x2="1406.60" y2="357.50" stroke="#000000" stroke-width="3.0" />
<rect x="1381.50" y="352.30" width="10.40" height="10.40" fill="#000000"/>
<text x="1409.70" y="366.20" font-family='"Liberation Serif", "DejaVu Serif", serif' font-size="23.8" font-weight="bold" text-anchor="start" fill="#000" stroke="#000" stroke-width="0.4" stroke-linejoin="round" >MetaPhyNet</text>
<path d="M51.88 835.66L53.32 835.08L54.72 834.45L56.08 833.77L57.39 833.04L58.67 832.26L59.92 831.44L61.13 830.58L62.31 829.68L63.47 828.75L64.60 827.79L65.70 826.80L66.79 825.78L67.86 824.74L68.91 823.68L69.95 822.60L70.98 821.51L72.00 820.40L73.01 819.29L74.02 818.17L75.03 817.05L76.04 815.92L77.06 814.80L78.08 813.69L79.10 812.58L80.14 811.48L81.19 810.40L82.26 809.33L83.34 808.28L84.44 807.25L85.55 806.24L86.69 805.25L87.84 804.29L89.01 803.35L90.19 802.43L91.40 801.55L92.62 800.69L93.86 799.86L95.12 799.07L96.40 798.30L97.70 797.57L99.02 796.87L100.36 796.21L101.73 795.59L103.11 795.01L104.51 794.47L105.93 793.96L107.37 793.50L108.82 793.07L110.29 792.69L111.77 792.35L113.25 792.04L114.75 791.78L116.26 791.56L117.76 791.39L119.28 791.25L120.79 791.16L122.31 791.11L123.82 791.10L125.33 791.13L126.84 791.21L128.33 791.33L129.83 791.49L131.31 791.70L132.78 791.95L134.23 792.25L135.68 792.59L137.10 792.97L138.52 793.40L139.91 793.87L141.29 794.38L142.66 794.93L144.01 795.51L145.35 796.13L146.68 796.78L148.00 797.46L149.31 798.17L150.60 798.90L151.89 799.67L153.17 800.45L154.43 801.26L155.69 802.09L156.95 802.94L158.19 803.81L159.43 804.69L160.67 805.58L161.90 806.48L163.13 807.39L164.36 808.30L165.59 809.21L166.82 810.12L168.05 811.02L169.29 811.92L170.53 812.81L171.78 813.69L173.03 814.55L174.30 815.40L175.57 816.23L176.85 817.03L178.15 817.81L179.46 818.56L180.78 819.29L182.12 819.98L183.47 820.63L184.84 821.25L186.23 821.82L187.64 822.36L189.08 822.84L190.53 823.28L191.99 823.68L193.47 824.02L194.95 824.31L196.45 824.55L197.94 824.73L199.44 824.86L200.93 824.94L202.41 824.96L203.88 824.92L205.34 824.82L206.78 824.66L208.21 824.44L209.63 824.18L211.04 823.86L212.43 823.49L213.81 823.08L215.19 822.63L216.55 822.13L217.91 821.60L219.26 821.04L220.60 820.44L221.94 819.82L223.28 819.17L224.61 818.49L225.93 817.80L227.26 817.09L228.58 816.36L229.91 815.62L231.23 814.87L232.56 814.11L233.88 813.35L235.21 812.59L236.55 811.83L237.89 811.07L239.23 810.32L240.58 809.57L241.94 808.84L243.31 808.13L244.68 807.43L246.07 806.75L247.46 806.09L248.86 805.45L250.27 804.83L251.69 804.24L253.11 803.66L254.54 803.11L255.97 802.58L257.41 802.08L258.85 801.60L260.30 801.14L261.75 800.71L263.21 800.31L264.67 799.94L266.13 799.59L267.60 799.27L269.06 798.99L270.53 798.73L271.99 798.50L273.46 798.31L274.93 798.14L276.40 798.01L277.86 797.92L279.33 797.85L280.79 797.82L282.25 797.83L283.71 797.87L285.16 797.95L286.61 798.07L288.06 798.23L289.50 798.42L290.93 798.66L292.36 798.93L293.79 799.24L295.21 799.60L296.62 799.99L298.02 800.43L299.42 800.90L300.81 801.40L302.20 801.94L303.57 802.51L304.94 803.12L306.31 803.75L307.66 804.41L309.01 805.10L310.36 805.82L311.69 806.55L313.02 807.32L314.34 808.10L315.65 808.90L316.95 809.72L318.25 810.56L319.54 811.42L320.82 812.28L322.10 813.17L323.36 814.06L324.62 814.96L325.87 815.87L327.11 816.79L328.34 817.72L329.57 818.65L330.78 819.58L331.99 820.51L333.19 821.45L334.39 822.38L335.58 823.32L336.76 824.25L337.94 825.17L339.12 826.09L340.30 827.01L341.48 827.91L342.67 828.81L343.85 829.70L345.04 830.58L346.23 831.44L347.43 832.30L348.63 833.13L349.85 833.96L351.07 834.76L352.30 835.55L353.54 836.32L354.80 837.06L356.07 837.79L357.35 838.50L358.65 839.18L359.97 839.83L361.30 840.46L362.65 841.07L364.02 841.64L365.41 842.19L366.81 842.71L368.23 843.21L369.66 843.68L371.11 844.12L372.56 844.54L374.03 844.93L375.51 845.29L376.99 845.63L378.49 845.95L379.99 846.23L381.49 846.50L383.00 846.73L384.51 846.95L386.03 847.13L387.55 847.29L389.07 847.43L390.59 847.53L392.11 847.61L393.63 847.67L395.15 847.69L396.67 847.69L398.18 847.66L399.69 847.60L401.20 847.51L402.70 847.39L404.20 847.24L405.69 847.06L407.18 846.85L408.66 846.62L410.13 846.34L411.59 846.04L413.04 845.71L414.48 845.34L415.91 844.94L417.33 844.51L418.74 844.04L420.14 843.55L421.52 843.01L422.89 842.45L424.24 841.84L425.58 841.21L426.90 840.54L428.21 839.84L429.50 839.11L430.79 838.35L432.06 837.57L433.32 836.76L434.58 835.94L435.82 835.09L437.06 834.22L438.29 833.34L439.51 832.45L440.73 831.54L441.94 830.62L443.14 829.69L444.35 828.75L445.55 827.81L446.75 826.87L447.95 825.92L449.15 824.97L450.35 824.03L451.55 823.09L452.76 822.15L453.97 821.22L455.18 820.31L456.39 819.40L457.62 818.50L458.84 817.63L460.08 816.76L461.32 815.92L462.57 815.09L463.84 814.29L465.11 813.51L466.39 812.76L467.69 812.04L468.99 811.34L470.32 810.68L471.65 810.05L473.00 809.45L474.37 808.89L475.75 808.37L477.16 807.89L478.57 807.45L480.01 807.06L481.45 806.71L482.91 806.40L484.38 806.13L485.86 805.91L487.34 805.74L488.83 805.62L490.32 805.54L491.82 805.51L493.31 805.53L494.80 805.60L496.29 805.73L497.78 805.90L499.26 806.13L500.74 806.40L502.20 806.72L503.66 807.09L505.11 807.50L506.55 807.94L507.98 808.43L509.40 808.95L510.81 809.51L512.21 810.10L513.59 810.72L514.96 811.37L516.31 812.04L517.64 812.74L518.96 813.46L520.27 814.20L521.56 814.96L522.83 815.73L524.10 816.53L525.35 817.34L526.59 818.16L527.82 819.00L529.05 819.85L530.27 820.71L531.48 821.59L532.68 822.47L533.89 823.36L535.09 824.25L536.29 825.16L537.49 826.06L538.69 826.97L539.89 827.88L541.09 828.80L542.30 829.71L543.52 830.63L544.74 831.54L545.96 832.44L547.20 833.35L548.45 834.24L549.70 835.13L550.97 836.01L552.25 836.88L553.54 837.73L554.84 838.56L556.15 839.37L557.47 840.15L558.81 840.90L560.15 841.62L561.51 842.30L562.88 842.94L564.26 843.54L565.65 844.09L567.05 844.60L568.46 845.05L569.89 845.44L571.33 845.77L572.77 846.05L574.23 846.26L575.68 846.42L577.14 846.51L578.61 846.54L580.06 846.52L581.52 846.43L582.96 846.28L584.40 846.07L585.83 845.80L587.24 845.47L588.63 845.08L590.01 844.63L591.36 844.12L592.70 843.55L594.01 842.92L595.31 842.25L596.60 841.53L597.87 840.78L599.14 839.99L600.39 839.16L601.64 838.31L602.88 837.44L604.12 836.55L605.37 835.65L606.61 834.74L607.85 833.82L609.10 832.91L610.36 832.00L611.63 831.09L612.90 830.20L614.19 829.33L615.48 828.46L616.78 827.61L618.09 826.78L619.41 825.96L620.74 825.16L622.08 824.39L623.42 823.63L624.77 822.90L626.12 822.19L627.49 821.50L628.85 820.84L630.23 820.21L631.61 819.61L632.99 819.03L634.38 818.49L635.78 817.98L637.18 817.50L638.58 817.06L639.99 816.65L641.40 816.28L642.81 815.95L644.23 815.66L645.65 815.41L647.07 815.20L648.50 815.03L649.92 814.91L651.35 814.84L652.78 814.81L654.21 814.83L655.64 814.89L657.07 815.01L658.50 815.18L659.93 815.41L661.36 815.68L662.79 816.02L664.22 816.41L665.65 816.85L667.07 817.34L668.49 817.88L669.90 818.47L671.31 819.10L672.71 819.76L674.10 820.46L675.48 821.20L676.85 821.96L678.21 822.75L679.55 823.57L680.88 824.40L682.20 825.25L683.50 826.12L684.79 827.00L686.05 827.89L687.31 828.79L688.54 829.69L689.77 830.60L690.99 831.51L692.20 832.43L693.40 833.34L694.60 834.25L695.80 835.16L696.99 836.06L698.19 836.95L699.39 837.84L700.59 838.72L701.80 839.59L703.01 840.44L704.24 841.28L705.48 842.10L706.72 842.90L707.98 843.69L709.26 844.46L710.54 845.21L711.83 845.94L713.14 846.65L714.45 847.35L715.78 848.02L717.11 848.67L718.46 849.31L719.81 849.92L721.18 850.51L722.55 851.08L723.93 851.63L725.33 852.16L726.73 852.66L728.13 853.14L729.55 853.60L730.98 854.04L732.41 854.45L733.85 854.84L735.29 855.20L736.75 855.54L738.21 855.86L739.68 856.15L741.15 856.42L742.63 856.67L744.11 856.90L745.60 857.11L747.09 857.31L748.59 857.49L750.09 857.66L751.59 857.82L753.10 857.96L754.61 858.09L756.11 858.22L757.63 858.33L759.14 858.44L760.65 858.55L762.16 858.65L763.68 858.75L765.19 858.84L766.70 858.94L768.21 859.04L769.72 859.14L771.23 859.24L772.73 859.34L774.23 859.44L775.74 859.54L777.24 859.65L778.74 859.75L780.24 859.86L781.74 859.96L783.24 860.07L784.73 860.18L786.23 860.28L787.72 860.39L789.22 860.50L790.71 860.60L792.21 860.71L793.70 860.81L795.19 860.92L796.68 861.02L798.18 861.12L799.67 861.22L801.16 861.32L802.65 861.42L804.14 861.51L805.63 861.61L807.13 861.70L808.62 861.79L810.11 861.88L811.60 861.97L813.10 862.05L814.59 862.13L816.08 862.21L817.58 862.29L819.07 862.36L820.57 862.43L822.07 862.50L823.56 862.56L825.06 862.62L826.56 862.68L828.06 862.73L829.57 862.78L831.07 862.82L832.57 862.86L834.08 862.90L835.59 862.93L837.09 862.96L838.60 862.98L840.12 863.00L841.63 863.02L843.14 863.02L844.66 863.03" fill="none" stroke="#0000ff" stroke-width="1.9" stroke-linejoin="round" stroke-dasharray="4.8 3.8"/>
<path d="M51.80 863.33L52.80 863.11L53.80 862.89L54.80 862.66L55.80 862.42L56.80 862.17L57.80 861.92L58.80 861.66L59.80 861.39L60.80 861.12L61.80 860.83L62.80 860.54L63.80 860.24L64.80 859.93L65.80 859.60L66.80 859.27L67.80 858.93L68.80 858.57L69.80 858.20L70.80 857.82L71.80 857.42L72.80 857.01L73.80 856.59L74.80 856.14L75.80 855.69L76.80 855.21L77.80 854.72L78.80 854.20L79.80 853.66L80.80 853.11L81.80 852.53L82.80 851.92L83.80 851.29L84.80 850.63L85.80 849.94L86.80 849.22L87.80 848.46L88.80 847.67L89.80 846.84L90.80 845.97L91.80 845.06L92.80 844.11L93.80 843.10L94.80 842.04L95.80 840.93L96.80 839.75L97.80 838.51L98.80 837.20L99.80 835.82L100.80 834.36L101.80 832.81L102.80 831.16L103.80 829.42L104.80 827.57L105.80 825.60L106.80 823.51L107.80 821.27L108.80 818.89L109.80 816.35L110.80 813.63L111.80 810.72L112.80 807.61L113.80 804.26L114.80 800.68L115.80 796.82L116.80 792.67L117.80 788.21L118.80 783.40L119.80 778.21L120.80 772.61L121.80 766.57L122.80 760.04L123.80 753.00L124.80 745.39L125.80 737.19L126.80 728.36L127.80 718.85L128.80 708.66L129.80 697.76L130.80 686.14L131.80 673.84L132.80 660.90L133.80 647.41L134.80 633.50L135.80 619.35L136.80 605.20L137.80 591.35L138.80 578.18L139.80 566.08L140.80 555.48L141.80 546.83L142.80 540.51L143.80 536.82L144.80 535.96L145.80 537.97L146.80 542.77L147.80 550.10L148.80 559.64L149.80 570.97L150.80 583.65L151.80 597.25L152.80 611.35L153.80 625.61L154.80 639.75L155.80 653.55L156.80 666.84L157.80 679.51L158.80 691.49L159.80 702.75L160.80 713.27L161.80 723.07L162.80 732.18L163.80 740.62L164.80 748.42L165.80 755.64L166.80 762.31L167.80 768.47L168.80 774.16L169.80 779.42L170.80 784.29L171.80 788.79L172.80 792.95L173.80 796.81L174.80 800.39L175.80 803.71L176.80 806.79L177.80 809.66L178.80 812.32L179.80 814.81L180.80 817.12L181.80 819.29L182.80 821.30L183.80 823.19L184.80 824.95L185.80 826.61L186.80 828.15L187.80 829.60L188.80 830.96L189.80 832.24L190.80 833.44L191.80 834.57L192.80 835.63L193.80 836.63L194.80 837.56L195.80 838.45L196.80 839.28L197.80 840.06L198.80 840.80L199.80 841.49L200.80 842.15L201.80 842.77L202.80 843.35L203.80 843.89L204.80 844.41L205.80 844.89L206.80 845.35L207.80 845.78L208.80 846.18L209.80 846.56L210.80 846.91L211.80 847.24L212.80 847.56L213.80 847.84L214.80 848.11L215.80 848.36L216.80 848.60L217.80 848.81L218.80 849.01L219.80 849.19L220.80 849.35L221.80 849.50L222.80 849.64L223.80 849.75L224.80 849.86L225.80 849.95L226.80 850.03L227.80 850.09L228.80 850.14L229.80 850.18L230.80 850.20L231.80 850.21L232.80 850.21L233.80 850.19L234.80 850.16L235.80 850.12L236.80 850.07L237.80 850.00L238.80 849.93L239.80 849.83L240.80 849.73L241.80 849.61L242.80 849.48L243.80 849.34L244.80 849.18L245.80 849.00L246.80 848.82L247.80 848.61L248.80 848.40L249.80 848.16L250.80 847.92L251.80 847.65L252.80 847.37L253.80 847.07L254.80 846.75L255.80 846.41L256.80 846.05L257.80 845.68L258.80 845.28L259.80 844.85L260.80 844.41L261.80 843.94L262.80 843.44L263.80 842.92L264.80 842.37L265.80 841.79L266.80 841.18L267.80 840.53L268.80 839.85L269.80 839.14L270.80 838.38L271.80 837.58L272.80 836.74L273.80 835.85L274.80 834.91L275.80 833.92L276.80 832.88L277.80 831.77L278.80 830.60L279.80 829.36L280.80 828.05L281.80 826.66L282.80 825.19L283.80 823.63L284.80 821.97L285.80 820.21L286.80 818.34L287.80 816.34L288.80 814.23L289.80 811.97L290.80 809.56L291.80 806.99L292.80 804.25L293.80 801.33L294.80 798.20L295.80 794.86L296.80 791.28L297.80 787.45L298.80 783.36L299.80 778.97L300.80 774.27L301.80 769.25L302.80 763.87L303.80 758.12L304.80 751.97L305.80 745.42L306.80 738.45L307.80 731.05L308.80 723.22L309.80 714.97L310.80 706.32L311.80 697.30L312.80 687.97L313.80 678.41L314.80 668.73L315.80 659.05L316.80 649.53L317.80 640.35L318.80 631.73L319.80 623.88L320.80 617.01L321.80 611.35L322.80 607.07L323.80 604.32L324.80 603.19L325.80 603.69L326.80 605.82L327.80 609.46L328.80 614.49L329.80 620.72L330.80 627.96L331.80 635.98L332.80 644.59L333.80 653.59L334.80 662.80L335.80 672.07L336.80 681.27L337.80 690.31L338.80 699.10L339.80 707.57L340.80 715.70L341.80 723.45L342.80 730.81L343.80 737.77L344.80 744.33L345.80 750.51L346.80 756.32L347.80 761.76L348.80 766.87L349.80 771.64L350.80 776.11L351.80 780.30L352.80 784.21L353.80 787.86L354.80 791.28L355.80 794.48L356.80 797.47L357.80 800.27L358.80 802.89L359.80 805.34L360.80 807.64L361.80 809.79L362.80 811.81L363.80 813.70L364.80 815.47L365.80 817.14L366.80 818.70L367.80 820.16L368.80 821.54L369.80 822.83L370.80 824.04L371.80 825.18L372.80 826.25L373.80 827.25L374.80 828.19L375.80 829.07L376.80 829.89L377.80 830.67L378.80 831.39L379.80 832.07L380.80 832.70L381.80 833.29L382.80 833.84L383.80 834.35L384.80 834.83L385.80 835.27L386.80 835.67L387.80 836.04L388.80 836.38L389.80 836.69L390.80 836.97L391.80 837.22L392.80 837.44L393.80 837.63L394.80 837.80L395.80 837.94L396.80 838.06L397.80 838.15L398.80 838.22L399.80 838.26L400.80 838.27L401.80 838.26L402.80 838.23L403.80 838.17L404.80 838.09L405.80 837.99L406.80 837.85L407.80 837.70L408.80 837.52L409.80 837.31L410.80 837.07L411.80 836.81L412.80 836.52L413.80 836.21L414.80 835.86L415.80 835.48L416.80 835.08L417.80 834.64L418.80 834.16L419.80 833.66L420.80 833.12L421.80 832.54L422.80 831.92L423.80 831.26L424.80 830.56L425.80 829.81L426.80 829.02L427.80 828.18L428.80 827.29L429.80 826.34L430.80 825.34L431.80 824.28L432.80 823.15L433.80 821.96L434.80 820.69L435.80 819.35L436.80 817.93L437.80 816.43L438.80 814.84L439.80 813.15L440.80 811.37L441.80 809.48L442.80 807.47L443.80 805.35L444.80 803.10L445.80 800.72L446.80 798.20L447.80 795.53L448.80 792.71L449.80 789.72L450.80 786.56L451.80 783.22L452.80 779.69L453.80 775.97L454.80 772.05L455.80 767.93L456.80 763.61L457.80 759.08L458.80 754.34L459.80 749.41L460.80 744.29L461.80 739.01L462.80 733.57L463.80 728.01L464.80 722.37L465.80 716.70L466.80 711.03L467.80 705.44L468.80 700.00L469.80 694.79L470.80 689.88L471.80 685.37L472.80 681.35L473.80 677.89L474.80 675.08L475.80 672.97L476.80 671.64L477.80 671.10L478.80 671.37L479.80 672.44L480.80 674.29L481.80 676.87L482.80 680.12L483.80 683.97L484.80 688.33L485.80 693.11L486.80 698.23L487.80 703.60L488.80 709.15L489.80 714.80L490.80 720.48L491.80 726.15L492.80 731.74L493.80 737.23L494.80 742.58L495.80 747.77L496.80 752.77L497.80 757.59L498.80 762.21L499.80 766.62L500.80 770.83L501.80 774.83L502.80 778.64L503.80 782.25L504.80 785.68L505.80 788.92L506.80 792.00L507.80 794.90L508.80 797.65L509.80 800.25L510.80 802.71L511.80 805.03L512.80 807.23L513.80 809.30L514.80 811.26L515.80 813.12L516.80 814.88L517.80 816.54L518.80 818.11L519.80 819.59L520.80 821.00L521.80 822.33L522.80 823.59L523.80 824.79L524.80 825.92L525.80 826.99L526.80 828.01L527.80 828.97L528.80 829.89L529.80 830.75L530.80 831.57L531.80 832.35L532.80 833.09L533.80 833.79L534.80 834.45L535.80 835.08L536.80 835.67L537.80 836.24L538.80 836.77L539.80 837.27L540.80 837.75L541.80 838.20L542.80 838.63L543.80 839.03L544.80 839.40L545.80 839.76L546.80 840.09L547.80 840.41L548.80 840.70L549.80 840.98L550.80 841.23L551.80 841.47L552.80 841.69L553.80 841.89L554.80 842.08L555.80 842.25L556.80 842.41L557.80 842.55L558.80 842.67L559.80 842.78L560.80 842.88L561.80 842.96L562.80 843.02L563.80 843.08L564.80 843.12L565.80 843.14L566.80 843.16L567.80 843.15L568.80 843.14L569.80 843.11L570.80 843.07L571.80 843.02L572.80 842.95L573.80 842.87L574.80 842.77L575.80 842.66L576.80 842.54L577.80 842.41L578.80 842.26L579.80 842.09L580.80 841.91L581.80 841.72L582.80 841.51L583.80 841.28L584.80 841.04L585.80 840.79L586.80 840.51L587.80 840.22L588.80 839.92L589.80 839.59L590.80 839.25L591.80 838.88L592.80 838.50L593.80 838.10L594.80 837.67L595.80 837.23L596.80 836.76L597.80 836.27L598.80 835.75L599.80 835.21L600.80 834.64L601.80 834.05L602.80 833.42L603.80 832.77L604.80 832.08L605.80 831.37L606.80 830.61L607.80 829.83L608.80 829.00L609.80 828.14L610.80 827.24L611.80 826.29L612.80 825.30L613.80 824.26L614.80 823.18L615.80 822.04L616.80 820.84L617.80 819.59L618.80 818.28L619.80 816.91L620.80 815.47L621.80 813.96L622.80 812.38L623.80 810.73L624.80 808.99L625.80 807.16L626.80 805.25L627.80 803.25L628.80 801.14L629.80 798.94L630.80 796.63L631.80 794.20L632.80 791.66L633.80 788.99L634.80 786.20L635.80 783.28L636.80 780.22L637.80 777.02L638.80 773.67L639.80 770.18L640.80 766.53L641.80 762.73L642.80 758.78L643.80 754.68L644.80 750.42L645.80 746.03L646.80 741.49L647.80 736.82L648.80 732.04L649.80 727.16L650.80 722.20L651.80 717.18L652.80 712.14L653.80 707.11L654.80 702.12L655.80 697.21L656.80 692.45L657.80 687.86L658.80 683.51L659.80 679.45L660.80 675.74L661.80 672.42L662.80 669.55L663.80 667.18L664.80 665.34L665.80 664.06L666.80 663.37L667.80 663.27L668.80 663.77L669.80 664.86L670.80 666.52L671.80 668.72L672.80 671.42L673.80 674.58L674.80 678.15L675.80 682.08L676.80 686.32L677.80 690.80L678.80 695.49L679.80 700.33L680.80 705.28L681.80 710.28L682.80 715.31L683.80 720.33L684.80 725.31L685.80 730.23L686.80 735.06L687.80 739.78L688.80 744.39L689.80 748.87L690.80 753.21L691.80 757.42L692.80 761.47L693.80 765.38L694.80 769.14L695.80 772.76L696.80 776.23L697.80 779.56L698.80 782.74L699.80 785.80L700.80 788.72L701.80 791.52L702.80 794.20L703.80 796.76L704.80 799.20L705.80 801.54L706.80 803.78L707.80 805.92L708.80 807.96L709.80 809.92L710.80 811.79L711.80 813.58L712.80 815.29L713.80 816.93L714.80 818.50L715.80 820.00L716.80 821.44L717.80 822.82L718.80 824.14L719.80 825.41L720.80 826.63L721.80 827.79L722.80 828.91L723.80 829.99L724.80 831.02L725.80 832.01L726.80 832.97L727.80 833.89L728.80 834.77L729.80 835.62L730.80 836.44L731.80 837.22L732.80 837.98L733.80 838.71L734.80 839.42L735.80 840.10L736.80 840.75L737.80 841.39L738.80 842.00L739.80 842.59L740.80 843.16L741.80 843.71L742.80 844.24L743.80 844.76L744.80 845.26L745.80 845.74L746.80 846.20L747.80 846.66L748.80 847.09L749.80 847.52L750.80 847.93L751.80 848.33L752.80 848.72L753.80 849.09L754.80 849.46L755.80 849.81L756.80 850.15L757.80 850.49L758.80 850.81L759.80 851.12L760.80 851.43L761.80 851.73L762.80 852.02L763.80 852.30L764.80 852.57L765.80 852.84L766.80 853.10L767.80 853.35L768.80 853.60L769.80 853.83L770.80 854.07L771.80 854.30L772.80 854.52L773.80 854.73L774.80 854.95L775.80 855.15L776.80 855.35L777.80 855.55L778.80 855.74L779.80 855.93L780.80 856.11L781.80 856.29L782.80 856.46L783.80 856.63L784.80 856.80L785.80 856.96L786.80 857.12L787.80 857.27L788.80 857.43L789.80 857.57L790.80 857.72L791.80 857.86L792.80 858.00L793.80 858.14L794.80 858.27L795.80 858.40L796.80 858.53L797.80 858.66L798.80 858.78L799.80 858.90L800.80 859.02L801.80 859.13L802.80 859.25L803.80 859.36L804.80 859.47L805.80 859.57L806.80 859.68L807.80 859.78L808.80 859.88L809.80 859.98L810.80 860.08L811.80 860.18L812.80 860.27L813.80 860.36L814.80 860.45L815.80 860.54L816.80 860.63L817.80 860.72L818.80 860.80L819.80 860.88L820.80 860.97L821.80 861.05L822.80 861.12L823.80 861.20L824.80 861.28L825.80 861.35L826.80 861.43L827.80 861.50L828.80 861.57L829.80 861.64L830.80 861.71L831.80 861.78L832.80 861.85L833.80 861.91L834.80 861.98L835.80 862.04L836.80 862.11L837.80 862.17L838.80 862.23L839.80 862.29L840.80 862.35L841.80 862.41L842.80 862.47L843.80 862.52" fill="none" stroke="#000" stroke-width="1.85" stroke-linejoin="round" stroke-dasharray="3.6 1.1 1.3 1.1"/>
<path d="M51.80 853.38L52.80 853.16L53.80 852.93L54.80 852.68L55.80 852.43L56.80 852.16L57.80 851.89L58.80 851.59L59.80 851.29L60.80 850.97L61.80 850.64L62.80 850.29L63.80 849.93L64.80 849.55L65.80 849.15L66.80 848.74L67.80 848.31L68.80 847.87L69.80 847.40L70.80 846.92L71.80 846.42L72.80 845.89L73.80 845.35L74.80 844.78L75.80 844.19L76.80 843.57L77.80 842.93L78.80 842.26L79.80 841.57L80.80 840.84L81.80 840.09L82.80 839.31L83.80 838.49L84.80 837.64L85.80 836.76L86.80 835.83L87.80 834.87L88.80 833.87L89.80 832.83L90.80 831.74L91.80 830.60L92.80 829.41L93.80 828.18L94.80 826.88L95.80 825.53L96.80 824.12L97.80 822.65L98.80 821.11L99.80 819.50L100.80 817.81L101.80 816.05L102.80 814.20L103.80 812.26L104.80 810.24L105.80 808.11L106.80 805.88L107.80 803.55L108.80 801.09L109.80 798.52L110.80 795.82L111.80 792.98L112.80 789.99L113.80 786.86L114.80 783.56L115.80 780.09L116.80 776.44L117.80 772.61L118.80 768.57L119.80 764.32L120.80 759.86L121.80 755.16L122.80 750.22L123.80 745.02L124.80 739.56L125.80 733.82L126.80 727.80L127.80 721.48L128.80 714.86L129.80 707.94L130.80 700.70L131.80 693.15L132.80 685.29L133.80 677.13L134.80 668.68L135.80 659.95L136.80 650.98L137.80 641.80L138.80 632.44L139.80 622.97L140.80 613.44L141.80 603.94L142.80 594.56L143.80 585.40L144.80 576.58L145.80 568.23L146.80 560.50L147.80 553.54L148.80 547.49L149.80 542.51L150.80 538.73L151.80 536.28L152.80 535.26L153.80 535.73L154.80 537.71L155.80 541.18L156.80 546.09L157.80 552.34L158.80 559.79L159.80 568.27L160.80 577.61L161.80 587.62L162.80 598.12L163.80 608.92L164.80 619.86L165.80 630.79L166.80 641.60L167.80 652.19L168.80 662.47L169.80 672.39L170.80 681.89L171.80 690.97L172.80 699.59L173.80 707.76L174.80 715.48L175.80 722.75L176.80 729.60L177.80 736.03L178.80 742.06L179.80 747.72L180.80 753.02L181.80 757.99L182.80 762.64L183.80 767.00L184.80 771.08L185.80 774.90L186.80 778.47L187.80 781.82L188.80 784.96L189.80 787.90L190.80 790.66L191.80 793.24L192.80 795.66L193.80 797.93L194.80 800.05L195.80 802.05L196.80 803.92L197.80 805.67L198.80 807.31L199.80 808.85L200.80 810.30L201.80 811.65L202.80 812.91L203.80 814.10L204.80 815.20L205.80 816.24L206.80 817.20L207.80 818.10L208.80 818.94L209.80 819.72L210.80 820.44L211.80 821.11L212.80 821.72L213.80 822.29L214.80 822.81L215.80 823.28L216.80 823.71L217.80 824.09L218.80 824.44L219.80 824.75L220.80 825.01L221.80 825.25L222.80 825.44L223.80 825.60L224.80 825.72L225.80 825.81L226.80 825.87L227.80 825.89L228.80 825.88L229.80 825.84L230.80 825.76L231.80 825.66L232.80 825.52L233.80 825.35L234.80 825.15L235.80 824.92L236.80 824.66L237.80 824.37L238.80 824.05L239.80 823.69L240.80 823.30L241.80 822.88L242.80 822.43L243.80 821.95L244.80 821.43L245.80 820.88L246.80 820.29L247.80 819.67L248.80 819.01L249.80 818.32L250.80 817.59L251.80 816.82L252.80 816.02L253.80 815.17L254.80 814.28L255.80 813.36L256.80 812.39L257.80 811.37L258.80 810.32L259.80 809.21L260.80 808.06L261.80 806.86L262.80 805.62L263.80 804.32L264.80 802.97L265.80 801.57L266.80 800.11L267.80 798.59L268.80 797.02L269.80 795.39L270.80 793.70L271.80 791.95L272.80 790.14L273.80 788.26L274.80 786.31L275.80 784.30L276.80 782.22L277.80 780.08L278.80 777.86L279.80 775.57L280.80 773.21L281.80 770.77L282.80 768.26L283.80 765.68L284.80 763.03L285.80 760.30L286.80 757.50L287.80 754.63L288.80 751.68L289.80 748.67L290.80 745.58L291.80 742.43L292.80 739.22L293.80 735.94L294.80 732.61L295.80 729.22L296.80 725.79L297.80 722.32L298.80 718.81L299.80 715.27L300.80 711.71L301.80 708.14L302.80 704.57L303.80 701.01L304.80 697.47L305.80 693.97L306.80 690.53L307.80 687.16L308.80 683.88L309.80 680.71L310.80 677.68L311.80 674.80L312.80 672.12L313.80 669.65L314.80 667.43L315.80 665.49L316.80 663.85L317.80 662.55L318.80 661.63L319.80 661.11L320.80 661.01L321.80 661.35L322.80 662.17L323.80 663.45L324.80 665.22L325.80 667.46L326.80 670.16L327.80 673.31L328.80 676.87L329.80 680.81L330.80 685.09L331.80 689.68L332.80 694.50L333.80 699.53L334.80 704.71L335.80 709.99L336.80 715.32L337.80 720.66L338.80 725.98L339.80 731.23L340.80 736.39L341.80 741.44L342.80 746.35L343.80 751.11L344.80 755.70L345.80 760.11L346.80 764.35L347.80 768.40L348.80 772.27L349.80 775.96L350.80 779.47L351.80 782.81L352.80 785.97L353.80 788.97L354.80 791.81L355.80 794.50L356.80 797.04L357.80 799.44L358.80 801.71L359.80 803.86L360.80 805.88L361.80 807.79L362.80 809.59L363.80 811.29L364.80 812.89L365.80 814.39L366.80 815.81L367.80 817.15L368.80 818.41L369.80 819.59L370.80 820.70L371.80 821.74L372.80 822.72L373.80 823.63L374.80 824.49L375.80 825.29L376.80 826.04L377.80 826.74L378.80 827.38L379.80 827.99L380.80 828.54L381.80 829.05L382.80 829.52L383.80 829.95L384.80 830.34L385.80 830.70L386.80 831.01L387.80 831.29L388.80 831.54L389.80 831.75L390.80 831.93L391.80 832.08L392.80 832.20L393.80 832.29L394.80 832.35L395.80 832.37L396.80 832.37L397.80 832.34L398.80 832.28L399.80 832.20L400.80 832.08L401.80 831.94L402.80 831.77L403.80 831.57L404.80 831.35L405.80 831.10L406.80 830.82L407.80 830.51L408.80 830.18L409.80 829.82L410.80 829.43L411.80 829.01L412.80 828.57L413.80 828.09L414.80 827.59L415.80 827.05L416.80 826.49L417.80 825.90L418.80 825.28L419.80 824.62L420.80 823.94L421.80 823.22L422.80 822.47L423.80 821.68L424.80 820.86L425.80 820.01L426.80 819.12L427.80 818.20L428.80 817.24L429.80 816.24L430.80 815.20L431.80 814.12L432.80 813.01L433.80 811.85L434.80 810.65L435.80 809.41L436.80 808.12L437.80 806.79L438.80 805.42L439.80 803.99L440.80 802.53L441.80 801.01L442.80 799.44L443.80 797.83L444.80 796.16L445.80 794.45L446.80 792.68L447.80 790.86L448.80 788.99L449.80 787.07L450.80 785.10L451.80 783.07L452.80 780.99L453.80 778.86L454.80 776.67L455.80 774.44L456.80 772.15L457.80 769.82L458.80 767.44L459.80 765.01L460.80 762.54L461.80 760.03L462.80 757.48L463.80 754.90L464.80 752.29L465.80 749.65L466.80 746.99L467.80 744.32L468.80 741.64L469.80 738.96L470.80 736.28L471.80 733.62L472.80 730.98L473.80 728.37L474.80 725.81L475.80 723.30L476.80 720.86L477.80 718.50L478.80 716.23L479.80 714.08L480.80 712.04L481.80 710.14L482.80 708.39L483.80 706.81L484.80 705.41L485.80 704.20L486.80 703.20L487.80 702.43L488.80 701.88L489.80 701.58L490.80 701.53L491.80 701.73L492.80 702.18L493.80 702.90L494.80 703.87L495.80 705.09L496.80 706.56L497.80 708.26L498.80 710.18L499.80 712.31L500.80 714.63L501.80 717.13L502.80 719.78L503.80 722.56L504.80 725.46L505.80 728.45L506.80 731.52L507.80 734.65L508.80 737.81L509.80 740.99L510.80 744.18L511.80 747.36L512.80 750.51L513.80 753.62L514.80 756.69L515.80 759.71L516.80 762.66L517.80 765.54L518.80 768.34L519.80 771.07L520.80 773.71L521.80 776.26L522.80 778.73L523.80 781.11L524.80 783.40L525.80 785.60L526.80 787.71L527.80 789.73L528.80 791.67L529.80 793.52L530.80 795.29L531.80 796.98L532.80 798.59L533.80 800.12L534.80 801.57L535.80 802.95L536.80 804.26L537.80 805.51L538.80 806.68L539.80 807.79L540.80 808.83L541.80 809.82L542.80 810.74L543.80 811.61L544.80 812.42L545.80 813.18L546.80 813.88L547.80 814.53L548.80 815.13L549.80 815.68L550.80 816.19L551.80 816.65L552.80 817.06L553.80 817.43L554.80 817.75L555.80 818.03L556.80 818.27L557.80 818.47L558.80 818.62L559.80 818.74L560.80 818.81L561.80 818.85L562.80 818.84L563.80 818.80L564.80 818.72L565.80 818.60L566.80 818.44L567.80 818.25L568.80 818.01L569.80 817.74L570.80 817.43L571.80 817.08L572.80 816.69L573.80 816.26L574.80 815.79L575.80 815.28L576.80 814.73L577.80 814.14L578.80 813.50L579.80 812.83L580.80 812.11L581.80 811.35L582.80 810.54L583.80 809.68L584.80 808.78L585.80 807.83L586.80 806.83L587.80 805.78L588.80 804.68L589.80 803.53L590.80 802.33L591.80 801.06L592.80 799.75L593.80 798.37L594.80 796.93L595.80 795.43L596.80 793.87L597.80 792.25L598.80 790.55L599.80 788.79L600.80 786.96L601.80 785.06L602.80 783.08L603.80 781.03L604.80 778.90L605.80 776.69L606.80 774.40L607.80 772.02L608.80 769.57L609.80 767.02L610.80 764.39L611.80 761.67L612.80 758.86L613.80 755.95L614.80 752.96L615.80 749.88L616.80 746.70L617.80 743.43L618.80 740.07L619.80 736.62L620.80 733.08L621.80 729.46L622.80 725.75L623.80 721.97L624.80 718.12L625.80 714.20L626.80 710.21L627.80 706.18L628.80 702.10L629.80 697.99L630.80 693.86L631.80 689.72L632.80 685.59L633.80 681.48L634.80 677.41L635.80 673.40L636.80 669.47L637.80 665.63L638.80 661.92L639.80 658.35L640.80 654.94L641.80 651.73L642.80 648.73L643.80 645.97L644.80 643.47L645.80 641.25L646.80 639.33L647.80 637.74L648.80 636.48L649.80 635.58L650.80 635.03L651.80 634.86L652.80 635.06L653.80 635.63L654.80 636.58L655.80 637.89L656.80 639.56L657.80 641.56L658.80 643.90L659.80 646.54L660.80 649.47L661.80 652.67L662.80 656.10L663.80 659.75L664.80 663.59L665.80 667.60L666.80 671.74L667.80 676.00L668.80 680.36L669.80 684.78L670.80 689.25L671.80 693.74L672.80 698.25L673.80 702.74L674.80 707.21L675.80 711.65L676.80 716.04L677.80 720.37L678.80 724.63L679.80 728.81L680.80 732.91L681.80 736.93L682.80 740.85L683.80 744.68L684.80 748.40L685.80 752.03L686.80 755.56L687.80 758.99L688.80 762.31L689.80 765.54L690.80 768.66L691.80 771.69L692.80 774.62L693.80 777.46L694.80 780.21L695.80 782.86L696.80 785.43L697.80 787.91L698.80 790.31L699.80 792.62L700.80 794.86L701.80 797.02L702.80 799.11L703.80 801.13L704.80 803.07L705.80 804.96L706.80 806.77L707.80 808.53L708.80 810.23L709.80 811.86L710.80 813.45L711.80 814.98L712.80 816.45L713.80 817.88L714.80 819.26L715.80 820.60L716.80 821.89L717.80 823.13L718.80 824.34L719.80 825.51L720.80 826.64L721.80 827.73L722.80 828.78L723.80 829.81L724.80 830.79L725.80 831.75L726.80 832.68L727.80 833.58L728.80 834.45L729.80 835.29L730.80 836.10L731.80 836.89L732.80 837.66L733.80 838.40L734.80 839.12L735.80 839.82L736.80 840.50L737.80 841.15L738.80 841.79L739.80 842.40L740.80 843.00L741.80 843.58L742.80 844.15L743.80 844.69L744.80 845.22L745.80 845.74L746.80 846.24L747.80 846.73L748.80 847.20L749.80 847.65L750.80 848.10L751.80 848.53L752.80 848.95L753.80 849.36L754.80 849.75L755.80 850.14L756.80 850.51L757.80 850.88L758.80 851.23L759.80 851.57L760.80 851.91L761.80 852.23L762.80 852.55L763.80 852.85L764.80 853.15L765.80 853.44L766.80 853.72L767.80 854.00L768.80 854.27L769.80 854.53L770.80 854.78L771.80 855.02L772.80 855.26L773.80 855.50L774.80 855.72L775.80 855.94L776.80 856.16L777.80 856.37L778.80 856.57L779.80 856.77L780.80 856.96L781.80 857.14L782.80 857.33L783.80 857.50L784.80 857.68L785.80 857.84L786.80 858.01L787.80 858.17L788.80 858.32L789.80 858.47L790.80 858.62L791.80 858.76L792.80 858.90L793.80 859.03L794.80 859.17L795.80 859.29L796.80 859.42L797.80 859.54L798.80 859.66L799.80 859.77L800.80 859.89L801.80 859.99L802.80 860.10L803.80 860.20L804.80 860.30L805.80 860.40L806.80 860.50L807.80 860.59L808.80 860.68L809.80 860.77L810.80 860.85L811.80 860.94L812.80 861.02L813.80 861.10L814.80 861.17L815.80 861.25L816.80 861.32L817.80 861.39L818.80 861.46L819.80 861.53L820.80 861.59L821.80 861.66L822.80 861.72L823.80 861.78L824.80 861.84L825.80 861.90L826.80 861.95L827.80 862.01L828.80 862.06L829.80 862.11L830.80 862.16L831.80 862.21L832.80 862.26L833.80 862.31L834.80 862.35L835.80 862.40L836.80 862.44L837.80 862.48L838.80 862.52L839.80 862.56L840.80 862.60L841.80 862.64L842.80 862.68L843.80 862.71" fill="none" stroke="#ff0000" stroke-width="1.7" stroke-linejoin="round" />
<line x1="51.80" y1="503.30" x2="51.80" y2="863.80" stroke="#6e6e6e" stroke-width="1" />
<line x1="51.30" y1="863.30" x2="845.10" y2="863.30" stroke="#6e6e6e" stroke-width="1" />
<text x="51.80" y="884.60" font-family='"Liberation Serif", "DejaVu Serif", serif' font-size="17.7" font-weight="bold" text-anchor="middle" fill="#262626" stroke="#262626" stroke-width="0.3" stroke-linejoin="round" >4</text>
<line x1="150.90" y1="863.30" x2="150.90" y2="855.30" stroke="#6e6e6e" stroke-width="1" />
<text x="150.90" y="884.60" font-family='"Liberation Serif", "DejaVu Serif", serif' font-size="17.7" font-weight="bold" text-anchor="middle" fill="#262626" stroke="#262626" stroke-width="0.3" stroke-linejoin="round" >4.5</text>
<line x1="250.00" y1="863.30" x2="250.00" y2="855.30" stroke="#6e6e6e" stroke-width="1" />
<text x="250.00" y="884.60" font-family='"Liberation Serif", "DejaVu Serif", serif' font-size="17.7" font-weight="bold" text-anchor="middle" fill="#262626" stroke="#262626" stroke-width="0.3" stroke-linejoin="round" >5</text>
<line x1="349.10" y1="863.30" x2="349.10" y2="855.30" stroke="#6e6e6e" stroke-width="1" />
<text x="349.10" y="884.60" font-family='"Liberation Serif", "DejaVu Serif", serif' font-size="17.7" font-weight="bold" text-anchor="middle" fill="#262626" stroke="#262626" stroke-width="0.3" stroke-linejoin="round" >5.5</text>
<line x1="448.20" y1="863.30" x2="448.20" y2="855.30" stroke="#6e6e6e" stroke-width="1" />
<text x="448.20" y="884.60" font-family='"Liberation Serif", "DejaVu Serif", serif' font-size="17.7" font-weight="bold" text-anchor="middle" fill="#262626" stroke="#262626" stroke-width="0.3" stroke-linejoin="round" >6</text>
<line x1="547.30" y1="863.30" x2="547.30" y2="855.30" stroke="#6e6e6e" stroke-width="1" />
<text x="547.30" y="884.60" font-family='"Liberation Serif", "DejaVu Serif", serif' font-size="17.7" font-weight="bold" text-anchor="middle" fill="#262626" stroke="#262626" stroke-width="0.3" stroke-linejoin="round" >6.5</text>
<line x1="646.40" y1="863.30" x2="646.40" y2="855.30" stroke="#6e6e6e" stroke-width="1" />
<text x="646.40" y="884.60" font-family='"Liberation Serif", "DejaVu Serif", serif' font-size="17.7" font-weight="bold" text-anchor="middle" fill="#262626" stroke="#262626" stroke-width="0.3" stroke-linejoin="round" >7</text>
<line x1="745.50" y1="863.30" x2="745.50" y2="855.30" stroke="#6e6e6e" stroke-width="1" />
<text x="745.50" y="884.60" font-family='"Liberation Serif", "DejaVu Serif", serif' font-size="17.7" font-weight="bold" text-anchor="middle" fill="#262626" stroke="#262626" stroke-width="0.3" stroke-linejoin="round" >7.5</text>
<line x1="844.60" y1="863.30" x2="844.60" y2="855.30" stroke="#6e6e6e" stroke-width="1" />
<text x="844.60" y="884.60" font-family='"Liberation Serif", "DejaVu Serif", serif' font-size="17.7" font-weight="bold" text-anchor="middle" fill="#262626" stroke="#262626" stroke-width="0.3" stroke-linejoin="round" >8</text>
<text x="46.40" y="870.50" font-family='"Liberation Serif", "DejaVu Serif", serif' font-size="17.7" font-weight="bold" text-anchor="end" fill="#262626" stroke="#262626" stroke-width="0.3" stroke-linejoin="round" >0</text>
<line x1="51.80" y1="791.30" x2="59.80" y2="791.30" stroke="#6e6e6e" stroke-width="1" />
<text x="46.40" y="798.50" font-family='"Liberation Serif", "DejaVu Serif", serif' font-size="17.7" font-weight="bold" text-anchor="end" fill="#262626" stroke="#262626" stroke-width="0.3" stroke-linejoin="round" >0.2</text>
<line x1="51.80" y1="719.30" x2="59.80" y2="719.30" stroke="#6e6e6e" stroke-width="1" />
<text x="46.40" y="726.50" font-family='"Liberation Serif", "DejaVu Serif", serif' font-size="17.7" font-weight="bold" text-anchor="end" fill="#262626" stroke="#262626" stroke-width="0.3" stroke-linejoin="round" >0.4</text>
<line x1="51.80" y1="647.30" x2="59.80" y2="647.30" stroke="#6e6e6e" stroke-width="1" />
<text x="46.40" y="654.50" font-family='"Liberation Serif", "DejaVu Serif", serif' font-size="17.7" font-weight="bold" text-anchor="end" fill="#262626" stroke="#262626" stroke-width="0.3" stroke-linejoin="round" >0.6</text>
<line x1="51.80" y1="575.30" x2="59.80" y2="575.30" stroke="#6e6e6e" stroke-width="1" />
<text x="46.40" y="582.50" font-family='"Liberation Serif", "DejaVu Serif", serif' font-size="17.7" font-weight="bold" text-anchor="end" fill="#262626" stroke="#262626" stroke-width="0.3" stroke-linejoin="round" >0.8</text>
<line x1="51.80" y1="503.30" x2="59.80" y2="503.30" stroke="#6e6e6e" stroke-width="1" />
<text x="46.40" y="510.50" font-family='"Liberation Serif", "DejaVu Serif", serif' font-size="17.7" font-weight="bold" text-anchor="end" fill="#262626" stroke="#262626" stroke-width="0.3" stroke-linejoin="round" >1</text>
<text x="448.80" y="909.10" font-family='"Liberation Serif", "DejaVu Serif", serif' font-size="19.8" font-weight="bold" text-anchor="middle" fill="#262626" stroke="#262626" stroke-width="0.3" stroke-linejoin="round" >Frequency/GHz</text>
<text transform="translate(18.90 681.80) rotate(-90)" font-family='"Liberation Serif", "DejaVu Serif", serif' font-size="19.6" font-weight="bold" text-anchor="middle" fill="#262626" stroke="#262626" stroke-width="0.3" stroke-linejoin="round">Absorbance</text>
<rect x="701.50" y="509.50" width="137.00" height="57.00" fill="#fff" stroke="#4a4a4a" stroke-width="1"/>
<line x1="703.50" y1="519.70" x2="724.90" y2="519.70" stroke="#000" stroke-width="2.1" stroke-dasharray="4.4 1.2 1.9 1.3"/>
<text x="726.80" y="525.00" font-family='"Liberation Serif", "DejaVu Serif", serif' font-size="15.7" font-weight="bold" text-anchor="start" fill="#000" stroke="#000" stroke-width="0.3" stroke-linejoin="round" >EM Simulation</text>
<line x1="703.50" y1="538.20" x2="724.90" y2="538.20" stroke="#0000ff" stroke-width="2.0" stroke-dasharray="4.8 3.8"/>
<text x="726.80" y="543.50" font-family='"Liberation Serif", "DejaVu Serif", serif' font-size="15.7" font-weight="bold" text-anchor="start" fill="#000" stroke="#000" stroke-width="0.3" stroke-linejoin="round" >MLP prediction</text>
<line x1="703.50" y1="556.60" x2="724.90" y2="556.60" stroke="#ff0000" stroke-width="1.7" />
<text x="726.80" y="561.90" font-family='"Liberation Serif", "DejaVu Serif", serif' font-size="15.7" font-weight="bold" text-anchor="start" fill="#000" stroke="#000" stroke-width="0.3" stroke-linejoin="round" >MetaPhyNet</text>
<path d="M920.81 829.78L922.26 830.20L923.70 830.62L925.15 831.05L926.59 831.48L928.03 831.92L929.46 832.36L930.90 832.80L932.33 833.25L933.76 833.70L935.19 834.16L936.62 834.62L938.05 835.08L939.47 835.55L940.90 836.01L942.32 836.49L943.74 836.96L945.16 837.44L946.57 837.93L947.99 838.41L949.41 838.90L950.82 839.39L952.23 839.89L953.64 840.38L955.06 840.89L956.47 841.39L957.87 841.90L959.28 842.41L960.69 842.92L962.10 843.43L963.50 843.95L964.91 844.47L966.32 844.99L967.72 845.51L969.13 846.04L970.53 846.57L971.93 847.10L973.34 847.63L974.74 848.16L976.15 848.69L977.56 849.22L978.96 849.75L980.37 850.28L981.78 850.82L983.18 851.35L984.59 851.88L986.00 852.41L987.41 852.93L988.83 853.45L990.24 853.97L991.66 854.48L993.08 854.98L994.51 855.47L995.93 855.96L997.36 856.43L998.80 856.89L1000.24 857.33L1001.68 857.76L1003.13 858.18L1004.58 858.57L1006.04 858.95L1007.51 859.31L1008.97 859.66L1010.45 859.98L1011.92 860.29L1013.40 860.58L1014.89 860.85L1016.38 861.10L1017.87 861.33L1019.36 861.55L1020.85 861.75L1022.35 861.92L1023.85 862.08L1025.35 862.22L1026.85 862.35L1028.35 862.45L1029.86 862.53L1031.36 862.60L1032.86 862.65L1034.37 862.67L1035.87 862.68L1037.37 862.67L1038.87 862.64L1040.37 862.59L1041.87 862.52L1043.36 862.43L1044.86 862.32L1046.35 862.19L1047.83 862.04L1049.32 861.87L1050.80 861.68L1052.28 861.47L1053.75 861.25L1055.22 861.00L1056.69 860.73L1058.15 860.44L1059.60 860.13L1061.05 859.80L1062.49 859.45L1063.93 859.08L1065.36 858.69L1066.79 858.28L1068.21 857.84L1069.62 857.39L1071.02 856.91L1072.42 856.42L1073.81 855.90L1075.19 855.37L1076.56 854.81L1077.93 854.24L1079.29 853.65L1080.65 853.05L1082.00 852.43L1083.34 851.79L1084.68 851.13L1086.02 850.47L1087.35 849.79L1088.67 849.09L1089.99 848.39L1091.31 847.67L1092.62 846.94L1093.93 846.20L1095.24 845.45L1096.54 844.69L1097.84 843.93L1099.14 843.15L1100.43 842.37L1101.72 841.59L1103.01 840.79L1104.30 839.99L1105.59 839.19L1106.88 838.38L1108.16 837.57L1109.45 836.76L1110.73 835.95L1112.02 835.13L1113.30 834.32L1114.59 833.50L1115.88 832.68L1117.16 831.87L1118.45 831.06L1119.74 830.25L1121.03 829.44L1122.32 828.64L1123.62 827.84L1124.92 827.05L1126.22 826.26L1127.52 825.48L1128.82 824.71L1130.13 823.94L1131.45 823.19L1132.76 822.44L1134.08 821.70L1135.41 820.97L1136.74 820.26L1138.07 819.55L1139.41 818.86L1140.76 818.18L1142.11 817.51L1143.46 816.85L1144.82 816.21L1146.18 815.57L1147.55 814.95L1148.92 814.34L1150.29 813.74L1151.67 813.15L1153.05 812.57L1154.44 812.00L1155.83 811.45L1157.23 810.91L1158.62 810.37L1160.03 809.85L1161.43 809.34L1162.84 808.84L1164.25 808.35L1165.67 807.87L1167.09 807.40L1168.51 806.94L1169.93 806.50L1171.36 806.06L1172.79 805.63L1174.22 805.22L1175.66 804.81L1177.09 804.41L1178.53 804.03L1179.98 803.65L1181.42 803.29L1182.87 802.93L1184.32 802.59L1185.77 802.25L1187.22 801.92L1188.68 801.60L1190.14 801.29L1191.59 800.99L1193.06 800.70L1194.52 800.42L1195.98 800.14L1197.45 799.87L1198.92 799.62L1200.39 799.36L1201.86 799.12L1203.34 798.89L1204.81 798.66L1206.29 798.43L1207.77 798.22L1209.25 798.01L1210.73 797.81L1212.21 797.62L1213.70 797.43L1215.18 797.25L1216.67 797.07L1218.16 796.90L1219.65 796.74L1221.14 796.58L1222.63 796.42L1224.13 796.28L1225.62 796.13L1227.12 795.99L1228.61 795.86L1230.11 795.73L1231.61 795.61L1233.11 795.48L1234.61 795.37L1236.11 795.25L1237.61 795.15L1239.11 795.04L1240.62 794.94L1242.12 794.84L1243.62 794.74L1245.13 794.65L1246.63 794.56L1248.14 794.47L1249.65 794.39L1251.15 794.30L1252.66 794.22L1254.17 794.14L1255.67 794.06L1257.18 793.99L1258.69 793.91L1260.20 793.84L1261.71 793.77L1263.22 793.70L1264.72 793.62L1266.23 793.55L1267.74 793.48L1269.25 793.41L1270.76 793.34L1272.27 793.27L1273.77 793.20L1275.28 793.13L1276.79 793.06L1278.30 792.99L1279.80 792.92L1281.31 792.85L1282.82 792.77L1284.32 792.69L1285.83 792.62L1287.33 792.54L1288.84 792.46L1290.34 792.38L1291.84 792.30L1293.35 792.22L1294.85 792.14L1296.35 792.06L1297.85 791.99L1299.35 791.91L1300.85 791.84L1302.35 791.78L1303.85 791.71L1305.35 791.65L1306.85 791.60L1308.34 791.55L1309.84 791.50L1311.34 791.46L1312.83 791.43L1314.33 791.40L1315.82 791.38L1317.32 791.37L1318.81 791.36L1320.30 791.36L1321.79 791.38L1323.29 791.39L1324.78 791.42L1326.27 791.46L1327.76 791.51L1329.25 791.57L1330.73 791.64L1332.22 791.72L1333.71 791.82L1335.20 791.92L1336.68 792.04L1338.17 792.17L1339.65 792.32L1341.14 792.48L1342.62 792.65L1344.10 792.84L1345.58 793.04L1347.06 793.26L1348.54 793.50L1350.02 793.75L1351.50 794.01L1352.98 794.29L1354.46 794.58L1355.93 794.89L1357.41 795.20L1358.88 795.53L1360.35 795.87L1361.82 796.23L1363.29 796.59L1364.75 796.96L1366.22 797.34L1367.68 797.73L1369.14 798.13L1370.60 798.54L1372.05 798.95L1373.51 799.38L1374.96 799.81L1376.41 800.24L1377.85 800.68L1379.29 801.12L1380.73 801.57L1382.17 802.03L1383.60 802.48L1385.03 802.94L1386.46 803.41L1387.89 803.87L1389.31 804.34L1390.73 804.81L1392.14 805.28L1393.56 805.75L1394.97 806.23L1396.39 806.71L1397.80 807.19L1399.21 807.67L1400.62 808.15L1402.02 808.63L1403.43 809.12L1404.84 809.60L1406.25 810.09L1407.66 810.58L1409.07 811.06L1410.48 811.55L1411.89 812.04L1413.30 812.53L1414.71 813.02L1416.13 813.51L1417.54 813.99L1418.96 814.48L1420.38 814.97L1421.81 815.46L1423.23 815.94L1424.66 816.43L1426.09 816.91L1427.53 817.40L1428.97 817.88L1430.41 818.35L1431.86 818.83L1433.30 819.30L1434.75 819.76L1436.20 820.22L1437.66 820.67L1439.12 821.12L1440.57 821.55L1442.04 821.98L1443.50 822.40L1444.96 822.81L1446.43 823.21L1447.90 823.60L1449.37 823.97L1450.84 824.34L1452.31 824.69L1453.78 825.02L1455.26 825.34L1456.73 825.65L1458.21 825.94L1459.69 826.21L1461.16 826.47L1462.64 826.71L1464.12 826.92L1465.60 827.12L1467.08 827.30L1468.56 827.46L1470.04 827.60L1471.52 827.72L1473.00 827.82L1474.48 827.90L1475.96 827.96L1477.44 828.00L1478.92 828.03L1480.40 828.04L1481.88 828.03L1483.36 828.01L1484.84 827.96L1486.32 827.91L1487.80 827.84L1489.28 827.75L1490.76 827.65L1492.24 827.54L1493.72 827.41L1495.20 827.27L1496.68 827.12L1498.16 826.95L1499.64 826.77L1501.12 826.59L1502.60 826.39L1504.08 826.18L1505.56 825.96L1507.04 825.73L1508.52 825.49L1510.00 825.24L1511.49 824.99L1512.97 824.73L1514.45 824.46L1515.93 824.18L1517.41 823.89L1518.89 823.60L1520.37 823.31L1521.85 823.01L1523.33 822.70L1524.81 822.39L1526.29 822.07L1527.77 821.75L1529.25 821.43L1530.73 821.11L1532.21 820.78L1533.69 820.45L1535.17 820.12L1536.65 819.79L1538.13 819.46L1539.61 819.13L1541.09 818.79L1542.57 818.46L1544.05 818.13L1545.53 817.80L1547.01 817.48L1548.49 817.15L1549.97 816.83L1551.45 816.51L1552.93 816.20L1554.41 815.88L1555.89 815.58L1557.37 815.28L1558.85 814.98L1560.33 814.69L1561.81 814.40L1563.29 814.12L1564.76 813.85L1566.24 813.58L1567.72 813.32L1569.20 813.06L1570.68 812.81L1572.16 812.57L1573.64 812.33L1575.12 812.10L1576.60 811.88L1578.08 811.66L1579.56 811.44L1581.04 811.24L1582.52 811.04L1584.00 810.84L1585.48 810.66L1586.96 810.48L1588.44 810.30L1589.92 810.14L1591.40 809.98L1592.89 809.82L1594.37 809.68L1595.85 809.54L1597.34 809.41L1598.82 809.28L1600.30 809.17L1601.79 809.06L1603.28 808.95L1604.76 808.86L1606.25 808.77L1607.74 808.69L1609.22 808.61L1610.71 808.55L1612.20 808.49L1613.69 808.44L1615.18 808.40L1616.68 808.36L1618.17 808.34L1619.66 808.32L1621.16 808.31L1622.65 808.30L1624.15 808.31L1625.65 808.32L1627.14 808.34L1628.64 808.37L1630.14 808.41L1631.64 808.46L1633.14 808.51L1634.65 808.58L1636.15 808.65L1637.66 808.73L1639.16 808.82L1640.67 808.92L1642.18 809.02L1643.69 809.14L1645.20 809.26L1646.71 809.40L1648.22 809.54L1649.73 809.69L1651.25 809.86L1652.76 810.03L1654.27 810.22L1655.78 810.41L1657.29 810.62L1658.80 810.85L1660.30 811.08L1661.80 811.33L1663.30 811.59L1664.79 811.87L1666.28 812.16L1667.77 812.46L1669.25 812.78L1670.72 813.12L1672.19 813.48L1673.65 813.85L1675.10 814.24L1676.55 814.64L1677.99 815.07L1679.42 815.51L1680.84 815.98L1682.26 816.46L1683.66 816.96L1685.05 817.49L1686.44 818.03L1687.81 818.60L1689.17 819.19L1690.52 819.80L1691.86 820.43L1693.18 821.09L1694.50 821.77L1695.80 822.47L1697.08 823.20L1698.35 823.96L1699.61 824.74L1700.85 825.54L1702.07 826.38L1703.28 827.24L1704.48 828.12L1705.65 829.04L1706.81 829.98L1707.95 830.95L1709.08 831.95L1710.18 832.99L1711.27 834.05L1712.33 835.14L1713.38 836.26" fill="none" stroke="#0000ff" stroke-width="1.9" stroke-linejoin="round" stroke-dasharray="4.8 3.8"/>
<path d="M920.70 863.15L922.23 863.07L923.75 863.00L925.28 862.92L926.80 862.85L928.32 862.78L929.84 862.70L931.36 862.63L932.88 862.55L934.40 862.48L935.91 862.40L937.42 862.33L938.93 862.25L940.44 862.18L941.95 862.10L943.45 862.03L944.96 861.95L946.46 861.87L947.97 861.79L949.47 861.71L950.97 861.63L952.47 861.55L953.96 861.47L955.46 861.39L956.96 861.31L958.45 861.22L959.94 861.14L961.44 861.05L962.93 860.96L964.42 860.87L965.91 860.79L967.40 860.69L968.89 860.60L970.38 860.51L971.87 860.41L973.35 860.32L974.84 860.22L976.33 860.12L977.81 860.02L979.30 859.92L980.79 859.81L982.27 859.71L983.76 859.60L985.24 859.49L986.73 859.38L988.21 859.27L989.69 859.15L991.18 859.04L992.66 858.92L994.15 858.80L995.63 858.67L997.12 858.55L998.60 858.42L1000.09 858.29L1001.57 858.16L1003.06 858.02L1004.55 857.89L1006.03 857.75L1007.52 857.61L1009.01 857.46L1010.50 857.32L1011.98 857.17L1013.47 857.01L1014.96 856.86L1016.46 856.70L1017.95 856.54L1019.44 856.38L1020.93 856.21L1022.43 856.04L1023.92 855.87L1025.42 855.69L1026.91 855.52L1028.41 855.34L1029.91 855.15L1031.41 854.96L1032.91 854.77L1034.42 854.58L1035.92 854.38L1037.43 854.18L1038.93 853.97L1040.44 853.76L1041.95 853.55L1043.46 853.34L1044.97 853.12L1046.49 852.90L1048.00 852.67L1049.52 852.44L1051.03 852.20L1052.55 851.95L1054.06 851.70L1055.57 851.44L1057.08 851.17L1058.59 850.89L1060.09 850.60L1061.59 850.30L1063.08 849.98L1064.57 849.65L1066.05 849.31L1067.53 848.95L1068.99 848.57L1070.45 848.18L1071.90 847.77L1073.34 847.35L1074.77 846.90L1076.19 846.43L1077.60 845.94L1078.99 845.43L1080.38 844.90L1081.75 844.34L1083.10 843.76L1084.45 843.15L1085.77 842.52L1087.09 841.86L1088.38 841.17L1089.66 840.46L1090.92 839.71L1092.16 838.93L1093.39 838.13L1094.59 837.29L1095.77 836.42L1096.94 835.51L1098.08 834.58L1099.21 833.62L1100.31 832.64L1101.40 831.62L1102.46 830.59L1103.51 829.52L1104.53 828.43L1105.53 827.32L1106.51 826.19L1107.47 825.03L1108.41 823.85L1109.33 822.66L1110.22 821.44L1111.10 820.21L1111.95 818.96L1112.78 817.69L1113.59 816.41L1114.37 815.11L1115.14 813.80L1115.88 812.48L1116.59 811.14L1117.29 809.80L1117.96 808.44L1118.61 807.07L1119.24 805.70L1119.84 804.32L1120.42 802.93L1120.98 801.53L1121.52 800.13L1122.04 798.71L1122.54 797.30L1123.03 795.87L1123.49 794.44L1123.94 793.01L1124.37 791.56L1124.79 790.12L1125.19 788.67L1125.58 787.21L1125.95 785.75L1126.31 784.28L1126.66 782.82L1127.00 781.34L1127.33 779.87L1127.64 778.39L1127.95 776.91L1128.25 775.43L1128.54 773.94L1128.83 772.46L1129.10 770.97L1129.38 769.48L1129.64 767.99L1129.91 766.50L1130.16 765.01L1130.42 763.52L1130.67 762.03L1130.93 760.54L1131.18 759.06L1131.43 757.57L1131.68 756.08L1131.94 754.60L1132.19 753.12L1132.45 751.64L1132.71 750.16L1132.97 748.69L1133.24 747.22L1133.52 745.75L1133.79 744.28L1134.07 742.82L1134.35 741.36L1134.63 739.90L1134.92 738.44L1135.21 736.98L1135.50 735.52L1135.80 734.07L1136.09 732.61L1136.39 731.16L1136.69 729.71L1136.98 728.25L1137.29 726.80L1137.59 725.35L1137.89 723.89L1138.19 722.44L1138.49 720.99L1138.80 719.53L1139.10 718.08L1139.40 716.62L1139.70 715.16L1140.01 713.70L1140.31 712.24L1140.61 710.78L1140.90 709.31L1141.20 707.84L1141.50 706.37L1141.79 704.90L1142.08 703.42L1142.37 701.95L1142.66 700.47L1142.94 698.98L1143.23 697.49L1143.51 696.00L1143.78 694.51L1144.06 693.01L1144.32 691.50L1144.59 689.99L1144.85 688.48L1145.11 686.96L1145.36 685.44L1145.61 683.91L1145.86 682.38L1146.10 680.84L1146.34 679.30L1146.57 677.75L1146.80 676.20L1147.05 674.66L1147.30 673.12L1147.58 671.60L1147.89 670.10L1148.23 668.62L1148.60 667.17L1149.02 665.75L1149.49 664.37L1150.02 663.03L1150.61 661.74L1151.27 660.49L1152.00 659.30L1152.81 658.17L1153.71 657.11L1154.70 656.11L1155.79 655.22L1156.98 654.53L1158.27 654.16L1159.65 654.17L1161.11 654.49L1162.62 655.02L1164.15 655.68L1165.69 656.37L1167.20 657.00L1168.68 657.48L1170.08 657.73L1171.40 657.66L1172.63 657.31L1173.79 656.69L1174.87 655.86L1175.89 654.83L1176.86 653.65L1177.77 652.35L1178.64 650.95L1179.47 649.50L1180.27 648.02L1181.05 646.56L1181.81 645.13L1182.55 643.76L1183.31 642.44L1184.08 641.17L1184.87 639.94L1185.71 638.77L1186.60 637.64L1187.55 636.57L1188.57 635.53L1189.64 634.54L1190.77 633.58L1191.95 632.64L1193.15 631.72L1194.38 630.82L1195.62 629.92L1196.86 629.02L1198.10 628.11L1199.33 627.19L1200.53 626.25L1201.69 625.29L1202.82 624.29L1203.89 623.25L1204.90 622.16L1205.85 621.04L1206.76 619.87L1207.61 618.67L1208.43 617.43L1209.20 616.17L1209.95 614.87L1210.67 613.56L1211.37 612.23L1212.05 610.88L1212.71 609.52L1213.37 608.15L1214.01 606.77L1214.65 605.38L1215.29 604.00L1215.93 602.61L1216.58 601.23L1217.23 599.86L1217.90 598.49L1218.57 597.14L1219.27 595.80L1219.99 594.48L1220.73 593.18L1221.50 591.91L1222.31 590.66L1223.14 589.44L1224.02 588.26L1224.93 587.11L1225.89 586.00L1226.90 584.92L1227.96 583.90L1229.07 582.92L1230.24 581.98L1231.46 581.09L1232.72 580.24L1234.01 579.41L1235.33 578.61L1236.67 577.83L1238.01 577.06L1239.37 576.29L1240.71 575.52L1242.05 574.74L1243.37 573.95L1244.66 573.14L1245.91 572.30L1247.13 571.43L1248.30 570.53L1249.44 569.60L1250.55 568.64L1251.62 567.66L1252.66 566.65L1253.68 565.61L1254.68 564.55L1255.65 563.46L1256.60 562.36L1257.54 561.23L1258.46 560.09L1259.37 558.93L1260.27 557.76L1261.16 556.57L1262.05 555.36L1262.94 554.15L1263.83 552.92L1264.72 551.68L1265.62 550.44L1266.53 549.19L1267.44 547.93L1268.37 546.67L1269.32 545.41L1270.29 544.14L1271.27 542.87L1272.28 541.62L1273.31 540.40L1274.38 539.25L1275.47 538.20L1276.60 537.28L1277.77 536.51L1278.97 535.93L1280.22 535.56L1281.51 535.44L1282.85 535.59L1284.23 536.02L1285.62 536.69L1286.99 537.54L1288.30 538.53L1289.51 539.61L1290.61 540.73L1291.61 541.89L1292.52 543.10L1293.34 544.34L1294.10 545.61L1294.81 546.91L1295.46 548.23L1296.08 549.57L1296.68 550.93L1297.26 552.30L1297.85 553.67L1298.44 555.05L1299.06 556.43L1299.71 557.80L1300.40 559.17L1301.15 560.52L1301.96 561.86L1302.85 563.17L1303.80 564.45L1304.81 565.66L1305.88 566.82L1307.00 567.88L1308.17 568.85L1309.38 569.71L1310.64 570.39L1311.94 570.85L1313.27 571.02L1314.64 570.86L1316.03 570.46L1317.46 569.91L1318.91 569.30L1320.38 568.73L1321.86 568.24L1323.33 567.86L1324.79 567.60L1326.21 567.50L1327.57 567.58L1328.86 567.86L1330.07 568.35L1331.17 569.10L1332.18 570.07L1333.10 571.24L1333.98 572.56L1334.83 573.96L1335.68 575.40L1336.56 576.84L1337.50 578.22L1338.50 579.51L1339.56 580.71L1340.67 581.80L1341.84 582.79L1343.06 583.66L1344.33 584.41L1345.63 585.04L1346.96 585.54L1348.33 585.89L1349.72 586.10L1351.13 586.18L1352.56 586.14L1354.01 586.04L1355.48 585.91L1356.97 585.80L1358.48 585.73L1360.01 585.75L1361.55 585.83L1363.10 585.99L1364.64 586.22L1366.18 586.52L1367.70 586.88L1369.20 587.32L1370.68 587.82L1372.12 588.40L1373.53 589.03L1374.89 589.73L1376.20 590.50L1377.45 591.32L1378.64 592.21L1379.77 593.16L1380.81 594.17L1381.79 595.24L1382.69 596.36L1383.53 597.53L1384.32 598.74L1385.05 600.00L1385.73 601.29L1386.37 602.62L1386.97 603.97L1387.53 605.35L1388.07 606.75L1388.58 608.17L1389.08 609.61L1389.56 611.05L1390.03 612.50L1390.49 613.95L1390.96 615.40L1391.43 616.85L1391.90 618.30L1392.37 619.75L1392.84 621.19L1393.31 622.63L1393.79 624.07L1394.27 625.51L1394.75 626.94L1395.23 628.37L1395.71 629.80L1396.20 631.23L1396.69 632.66L1397.19 634.08L1397.69 635.50L1398.19 636.92L1398.69 638.33L1399.21 639.75L1399.72 641.16L1400.24 642.56L1400.77 643.97L1401.30 645.37L1401.83 646.76L1402.37 648.16L1402.92 649.55L1403.47 650.94L1404.03 652.32L1404.60 653.70L1405.17 655.08L1405.75 656.45L1406.33 657.82L1406.93 659.19L1407.53 660.55L1408.14 661.91L1408.76 663.27L1409.38 664.62L1410.01 665.96L1410.66 667.31L1411.31 668.65L1411.98 669.98L1412.66 671.31L1413.36 672.64L1414.07 673.96L1414.80 675.28L1415.54 676.59L1416.31 677.89L1417.10 679.20L1417.90 680.49L1418.73 681.79L1419.59 683.07L1420.46 684.36L1421.37 685.63L1422.30 686.90L1423.27 688.14L1424.29 689.31L1425.36 690.38L1426.51 691.32L1427.74 692.08L1429.07 692.64L1430.46 692.98L1431.90 693.12L1433.36 693.06L1434.79 692.80L1436.18 692.34L1437.50 691.69L1438.71 690.85L1439.81 689.84L1440.81 688.69L1441.73 687.43L1442.58 686.10L1443.39 684.74L1444.17 683.37L1444.93 682.03L1445.69 680.74L1446.45 679.47L1447.21 678.22L1447.96 676.97L1448.71 675.70L1449.45 674.41L1450.20 673.07L1450.94 671.69L1451.70 670.26L1452.49 668.85L1453.35 667.50L1454.30 666.27L1455.37 665.21L1456.58 664.38L1457.93 663.81L1459.36 663.48L1460.82 663.40L1462.26 663.56L1463.62 663.96L1464.86 664.60L1465.92 665.47L1466.80 666.55L1467.54 667.79L1468.17 669.15L1468.72 670.59L1469.23 672.07L1469.73 673.55L1470.22 675.03L1470.71 676.50L1471.18 677.98L1471.65 679.45L1472.11 680.91L1472.57 682.38L1473.02 683.84L1473.46 685.30L1473.90 686.76L1474.33 688.22L1474.75 689.67L1475.17 691.13L1475.59 692.58L1476.00 694.03L1476.40 695.48L1476.81 696.93L1477.20 698.37L1477.60 699.82L1477.99 701.27L1478.37 702.71L1478.75 704.16L1479.13 705.60L1479.51 707.04L1479.89 708.49L1480.26 709.93L1480.63 711.37L1481.00 712.82L1481.36 714.26L1481.73 715.71L1482.09 717.15L1482.45 718.60L1482.82 720.04L1483.18 721.49L1483.54 722.94L1483.90 724.39L1484.26 725.84L1484.63 727.29L1484.99 728.74L1485.35 730.19L1485.72 731.65L1486.09 733.10L1486.45 734.55L1486.83 736.00L1487.20 737.46L1487.58 738.91L1487.96 740.36L1488.34 741.81L1488.72 743.26L1489.11 744.71L1489.51 746.16L1489.90 747.61L1490.31 749.06L1490.71 750.50L1491.13 751.95L1491.54 753.39L1491.97 754.83L1492.40 756.27L1492.83 757.71L1493.27 759.15L1493.72 760.58L1494.18 762.01L1494.64 763.45L1495.11 764.87L1495.59 766.30L1496.07 767.72L1496.57 769.14L1497.07 770.56L1497.58 771.97L1498.10 773.38L1498.63 774.79L1499.17 776.20L1499.72 777.60L1500.28 778.99L1500.84 780.39L1501.42 781.78L1502.02 783.17L1502.62 784.55L1503.23 785.93L1503.86 787.30L1504.49 788.67L1505.14 790.04L1505.81 791.39L1506.48 792.75L1507.17 794.09L1507.87 795.43L1508.59 796.76L1509.32 798.09L1510.07 799.40L1510.84 800.70L1511.62 801.99L1512.42 803.27L1513.23 804.53L1514.06 805.78L1514.92 807.02L1515.79 808.24L1516.68 809.45L1517.58 810.64L1518.51 811.82L1519.46 812.97L1520.43 814.11L1521.43 815.23L1522.44 816.33L1523.47 817.41L1524.53 818.47L1525.60 819.51L1526.69 820.53L1527.81 821.53L1528.94 822.52L1530.08 823.48L1531.25 824.42L1532.43 825.35L1533.62 826.25L1534.84 827.14L1536.06 828.01L1537.30 828.85L1538.56 829.68L1539.83 830.49L1541.11 831.28L1542.40 832.05L1543.71 832.80L1545.03 833.52L1546.35 834.24L1547.69 834.93L1549.04 835.60L1550.40 836.25L1551.76 836.88L1553.14 837.49L1554.52 838.09L1555.91 838.66L1557.30 839.22L1558.71 839.75L1560.11 840.27L1561.53 840.76L1562.95 841.24L1564.37 841.70L1565.80 842.14L1567.23 842.57L1568.67 842.98L1570.12 843.37L1571.56 843.75L1573.02 844.11L1574.47 844.46L1575.93 844.79L1577.39 845.11L1578.86 845.42L1580.33 845.71L1581.81 846.00L1583.28 846.27L1584.76 846.53L1586.24 846.78L1587.73 847.02L1589.22 847.25L1590.71 847.47L1592.20 847.68L1593.69 847.88L1595.18 848.08L1596.68 848.27L1598.18 848.45L1599.68 848.63L1601.18 848.80L1602.68 848.96L1604.18 849.12L1605.68 849.28L1607.18 849.43L1608.68 849.58L1610.18 849.73L1611.68 849.87L1613.19 850.01L1614.69 850.15L1616.19 850.29L1617.69 850.43L1619.19 850.56L1620.68 850.70L1622.18 850.83L1623.68 850.96L1625.18 851.09L1626.68 851.22L1628.17 851.35L1629.67 851.47L1631.17 851.60L1632.66 851.72L1634.16 851.84L1635.65 851.96L1637.15 852.07L1638.65 852.19L1640.14 852.31L1641.64 852.42L1643.13 852.53L1644.63 852.64L1646.12 852.75L1647.62 852.86L1649.11 852.96L1650.61 853.07L1652.10 853.17L1653.59 853.28L1655.09 853.38L1656.58 853.48L1658.08 853.57L1659.57 853.67L1661.07 853.77L1662.56 853.86L1664.06 853.95L1665.55 854.05L1667.05 854.14L1668.54 854.23L1670.04 854.32L1671.54 854.40L1673.03 854.49L1674.53 854.57L1676.03 854.66L1677.52 854.74L1679.02 854.82L1680.52 854.90L1682.02 854.98L1683.51 855.06L1685.01 855.13L1686.51 855.21L1688.01 855.28L1689.51 855.36L1691.01 855.43L1692.51 855.50L1694.01 855.57L1695.52 855.64L1697.02 855.71L1698.52 855.77L1700.03 855.84L1701.53 855.91L1703.03 855.97L1704.54 856.03L1706.04 856.09L1707.55 856.16L1709.06 856.22L1710.57 856.28L1712.07 856.33L1713.58 856.39" fill="none" stroke="#000" stroke-width="1.85" stroke-linejoin="round" stroke-dasharray="3.6 1.1 1.3 1.1"/>
<path d="M920.79 861.58L922.30 861.46L923.80 861.34L925.30 861.21L926.80 861.08L928.30 860.94L929.80 860.80L931.30 860.65L932.80 860.50L934.29 860.34L935.78 860.18L937.28 860.02L938.77 859.85L940.26 859.67L941.75 859.50L943.23 859.32L944.72 859.13L946.21 858.94L947.69 858.75L949.18 858.56L950.66 858.36L952.15 858.16L953.63 857.96L955.11 857.75L956.59 857.55L958.08 857.33L959.56 857.12L961.04 856.91L962.52 856.69L964.00 856.47L965.48 856.25L966.96 856.03L968.44 855.81L969.92 855.59L971.40 855.36L972.88 855.14L974.37 854.91L975.85 854.68L977.33 854.46L978.81 854.23L980.29 854.00L981.78 853.77L983.26 853.55L984.74 853.32L986.23 853.09L987.71 852.86L989.20 852.63L990.69 852.40L992.17 852.17L993.66 851.94L995.14 851.70L996.63 851.47L998.12 851.23L999.60 850.99L1001.09 850.75L1002.57 850.50L1004.06 850.25L1005.54 850.00L1007.02 849.74L1008.51 849.48L1009.99 849.21L1011.47 848.94L1012.95 848.67L1014.42 848.39L1015.90 848.11L1017.38 847.82L1018.85 847.52L1020.33 847.22L1021.80 846.91L1023.27 846.59L1024.73 846.27L1026.20 845.94L1027.66 845.60L1029.13 845.26L1030.59 844.91L1032.05 844.55L1033.50 844.18L1034.95 843.80L1036.41 843.41L1037.85 843.02L1039.30 842.61L1040.74 842.20L1042.18 841.77L1043.62 841.34L1045.06 840.89L1046.49 840.43L1047.92 839.97L1049.34 839.49L1050.76 839.00L1052.18 838.50L1053.59 837.98L1055.00 837.46L1056.40 836.92L1057.80 836.37L1059.19 835.80L1060.58 835.23L1061.96 834.64L1063.33 834.04L1064.70 833.42L1066.06 832.79L1067.41 832.15L1068.75 831.49L1070.09 830.82L1071.42 830.13L1072.74 829.43L1074.05 828.72L1075.35 827.99L1076.64 827.24L1077.92 826.48L1079.19 825.70L1080.45 824.91L1081.71 824.10L1082.95 823.28L1084.17 822.44L1085.39 821.58L1086.60 820.70L1087.79 819.81L1088.97 818.90L1090.14 817.98L1091.29 817.03L1092.43 816.07L1093.56 815.09L1094.67 814.09L1095.77 813.08L1096.85 812.04L1097.92 810.99L1098.98 809.92L1100.02 808.83L1101.05 807.73L1102.06 806.61L1103.06 805.47L1104.04 804.32L1105.01 803.16L1105.97 801.98L1106.91 800.79L1107.83 799.59L1108.75 798.37L1109.64 797.15L1110.53 795.91L1111.40 794.66L1112.26 793.40L1113.10 792.14L1113.93 790.86L1114.74 789.58L1115.54 788.29L1116.33 786.99L1117.10 785.68L1117.86 784.37L1118.60 783.06L1119.33 781.73L1120.05 780.41L1120.75 779.08L1121.44 777.74L1122.12 776.40L1122.79 775.05L1123.44 773.70L1124.09 772.35L1124.72 770.99L1125.33 769.63L1125.94 768.26L1126.54 766.89L1127.13 765.52L1127.70 764.14L1128.27 762.76L1128.83 761.38L1129.38 759.99L1129.92 758.60L1130.45 757.20L1130.97 755.80L1131.48 754.40L1131.99 753.00L1132.48 751.59L1132.97 750.18L1133.46 748.77L1133.93 747.36L1134.40 745.94L1134.87 744.52L1135.33 743.10L1135.78 741.67L1136.23 740.25L1136.67 738.82L1137.10 737.39L1137.54 735.96L1137.96 734.52L1138.39 733.09L1138.81 731.65L1139.23 730.21L1139.64 728.77L1140.05 727.33L1140.46 725.89L1140.86 724.45L1141.27 723.00L1141.67 721.56L1142.07 720.11L1142.47 718.66L1142.87 717.22L1143.26 715.77L1143.65 714.32L1144.04 712.87L1144.43 711.42L1144.81 709.96L1145.19 708.51L1145.57 707.05L1145.94 705.60L1146.31 704.14L1146.67 702.68L1147.03 701.22L1147.38 699.76L1147.73 698.30L1148.08 696.83L1148.42 695.37L1148.75 693.90L1149.08 692.43L1149.40 690.96L1149.71 689.49L1150.02 688.02L1150.32 686.54L1150.61 685.07L1150.90 683.59L1151.18 682.11L1151.45 680.62L1151.71 679.14L1151.96 677.65L1152.21 676.16L1152.45 674.67L1152.68 673.18L1152.91 671.69L1153.14 670.20L1153.35 668.71L1153.57 667.21L1153.78 665.72L1153.98 664.22L1154.19 662.73L1154.39 661.24L1154.59 659.74L1154.79 658.25L1154.99 656.76L1155.19 655.26L1155.38 653.77L1155.58 652.29L1155.79 650.80L1155.99 649.31L1156.20 647.83L1156.41 646.35L1156.62 644.87L1156.83 643.39L1157.05 641.92L1157.27 640.44L1157.50 638.97L1157.73 637.50L1157.96 636.03L1158.19 634.56L1158.43 633.10L1158.67 631.63L1158.91 630.17L1159.16 628.70L1159.40 627.24L1159.65 625.77L1159.91 624.31L1160.16 622.85L1160.42 621.38L1160.68 619.92L1160.95 618.46L1161.21 617.00L1161.48 615.53L1161.75 614.07L1162.02 612.60L1162.30 611.14L1162.57 609.67L1162.85 608.20L1163.13 606.73L1163.42 605.26L1163.70 603.79L1163.99 602.31L1164.27 600.84L1164.57 599.36L1164.86 597.88L1165.15 596.40L1165.45 594.92L1165.74 593.43L1166.04 591.94L1166.34 590.45L1166.64 588.95L1166.95 587.46L1167.25 585.96L1167.55 584.45L1167.86 582.95L1168.17 581.44L1168.48 579.92L1168.79 578.41L1169.10 576.89L1169.42 575.37L1169.75 573.85L1170.11 572.35L1170.48 570.87L1170.89 569.40L1171.34 567.96L1171.83 566.55L1172.37 565.18L1172.96 563.85L1173.62 562.56L1174.34 561.32L1175.13 560.14L1176.01 559.01L1176.96 557.95L1178.01 556.96L1179.15 556.06L1180.36 555.27L1181.64 554.61L1182.98 554.11L1184.38 553.78L1185.82 553.64L1187.30 553.73L1188.81 554.03L1190.34 554.46L1191.87 554.93L1193.38 555.32L1194.87 555.55L1196.31 555.53L1197.72 555.28L1199.11 554.85L1200.47 554.26L1201.82 553.56L1203.16 552.78L1204.49 551.95L1205.83 551.11L1207.18 550.31L1208.55 549.56L1209.94 548.92L1211.36 548.40L1212.81 548.00L1214.27 547.67L1215.73 547.37L1217.18 547.06L1218.62 546.71L1220.04 546.27L1221.43 545.75L1222.79 545.15L1224.14 544.49L1225.47 543.77L1226.78 543.00L1228.07 542.20L1229.35 541.36L1230.62 540.51L1231.89 539.64L1233.14 538.76L1234.39 537.90L1235.64 537.13L1236.91 536.55L1238.20 536.25L1239.52 536.31L1240.87 536.66L1242.24 537.23L1243.63 537.89L1245.02 538.59L1246.40 539.32L1247.77 540.07L1249.10 540.86L1250.40 541.69L1251.64 542.57L1252.85 543.48L1254.01 544.43L1255.13 545.41L1256.22 546.43L1257.27 547.48L1258.30 548.55L1259.30 549.65L1260.27 550.76L1261.23 551.90L1262.16 553.06L1263.08 554.22L1263.99 555.40L1264.89 556.59L1265.79 557.78L1266.68 558.98L1267.58 560.18L1268.48 561.38L1269.39 562.57L1270.31 563.76L1271.25 564.95L1272.22 566.13L1273.22 567.30L1274.26 568.45L1275.33 569.56L1276.44 570.62L1277.61 571.61L1278.82 572.52L1280.09 573.31L1281.40 573.96L1282.77 574.41L1284.18 574.63L1285.62 574.59L1287.09 574.35L1288.59 574.00L1290.09 573.62L1291.58 573.28L1293.06 573.03L1294.49 572.94L1295.88 573.05L1297.22 573.36L1298.52 573.84L1299.79 574.47L1301.04 575.22L1302.27 576.07L1303.50 576.99L1304.72 577.96L1305.96 578.96L1307.21 579.95L1308.49 580.93L1309.79 581.86L1311.12 582.74L1312.47 583.56L1313.83 584.30L1315.21 584.95L1316.59 585.51L1317.98 585.95L1319.37 586.28L1320.75 586.48L1322.12 586.53L1323.49 586.43L1324.83 586.17L1326.16 585.73L1327.46 585.11L1328.75 584.33L1330.02 583.44L1331.30 582.48L1332.58 581.50L1333.88 580.55L1335.22 579.66L1336.58 578.88L1337.97 578.20L1339.38 577.59L1340.78 577.04L1342.17 576.53L1343.54 576.05L1344.87 575.57L1346.18 575.09L1347.46 574.57L1348.74 574.02L1350.02 573.40L1351.32 572.70L1352.63 571.92L1353.96 571.07L1355.30 570.16L1356.66 569.23L1358.02 568.30L1359.39 567.39L1360.76 566.52L1362.13 565.72L1363.49 565.02L1364.85 564.42L1366.19 563.97L1367.52 563.68L1368.83 563.57L1370.12 563.67L1371.38 564.00L1372.61 564.55L1373.81 565.28L1374.97 566.19L1376.08 567.23L1377.15 568.38L1378.16 569.63L1379.11 570.94L1380.00 572.29L1380.83 573.66L1381.59 575.04L1382.29 576.43L1382.95 577.83L1383.56 579.23L1384.14 580.64L1384.69 582.05L1385.22 583.46L1385.73 584.86L1386.24 586.27L1386.74 587.66L1387.25 589.05L1387.77 590.43L1388.30 591.79L1388.87 593.14L1389.46 594.47L1390.09 595.79L1390.77 597.08L1391.50 598.35L1392.29 599.60L1393.14 600.82L1394.05 602.00L1395.02 603.16L1396.05 604.28L1397.12 605.36L1398.24 606.40L1399.41 607.40L1400.62 608.35L1401.86 609.25L1403.15 610.09L1404.46 610.88L1405.80 611.60L1407.17 612.26L1408.56 612.85L1409.98 613.37L1411.41 613.81L1412.86 614.18L1414.33 614.45L1415.80 614.64L1417.28 614.74L1418.77 614.74L1420.25 614.64L1421.74 614.44L1423.23 614.14L1424.70 613.72L1426.17 613.19L1427.63 612.55L1429.08 611.84L1430.52 611.10L1431.95 610.34L1433.37 609.62L1434.78 608.95L1436.18 608.38L1437.58 607.93L1438.96 607.64L1440.34 607.54L1441.71 607.66L1443.06 608.03L1444.38 608.59L1445.65 609.30L1446.83 610.11L1447.93 611.01L1448.95 611.99L1449.90 613.04L1450.77 614.15L1451.59 615.32L1452.34 616.55L1453.05 617.83L1453.70 619.15L1454.32 620.50L1454.89 621.89L1455.44 623.30L1455.96 624.74L1456.47 626.18L1456.96 627.64L1457.44 629.10L1457.91 630.56L1458.38 632.01L1458.84 633.47L1459.29 634.93L1459.74 636.39L1460.18 637.85L1460.62 639.31L1461.05 640.77L1461.48 642.23L1461.90 643.69L1462.32 645.15L1462.73 646.62L1463.13 648.08L1463.54 649.54L1463.93 651.00L1464.33 652.46L1464.72 653.92L1465.10 655.39L1465.49 656.85L1465.87 658.31L1466.24 659.77L1466.61 661.23L1466.98 662.69L1467.35 664.16L1467.71 665.62L1468.07 667.08L1468.43 668.54L1468.78 670.00L1469.14 671.46L1469.49 672.93L1469.84 674.39L1470.19 675.85L1470.53 677.31L1470.88 678.77L1471.22 680.23L1471.56 681.69L1471.91 683.15L1472.25 684.61L1472.59 686.07L1472.93 687.52L1473.27 688.98L1473.61 690.44L1473.94 691.90L1474.28 693.36L1474.62 694.81L1474.96 696.27L1475.30 697.72L1475.65 699.18L1475.99 700.63L1476.33 702.09L1476.68 703.54L1477.02 705.00L1477.37 706.45L1477.72 707.90L1478.07 709.35L1478.42 710.80L1478.78 712.25L1479.13 713.70L1479.49 715.15L1479.86 716.60L1480.22 718.05L1480.59 719.50L1480.96 720.94L1481.34 722.39L1481.71 723.83L1482.10 725.28L1482.48 726.72L1482.87 728.16L1483.26 729.60L1483.66 731.04L1484.06 732.48L1484.47 733.92L1484.88 735.36L1485.29 736.80L1485.71 738.23L1486.14 739.67L1486.57 741.10L1487.00 742.54L1487.45 743.97L1487.89 745.40L1488.35 746.83L1488.81 748.26L1489.27 749.68L1489.74 751.11L1490.22 752.53L1490.71 753.96L1491.20 755.38L1491.70 756.79L1492.20 758.21L1492.72 759.62L1493.24 761.03L1493.77 762.44L1494.30 763.84L1494.85 765.25L1495.40 766.64L1495.97 768.04L1496.54 769.43L1497.12 770.82L1497.70 772.20L1498.30 773.58L1498.91 774.96L1499.53 776.33L1500.15 777.70L1500.79 779.06L1501.44 780.42L1502.09 781.77L1502.76 783.12L1503.44 784.46L1504.13 785.80L1504.83 787.13L1505.54 788.45L1506.26 789.78L1506.99 791.09L1507.74 792.40L1508.49 793.70L1509.26 795.00L1510.04 796.29L1510.84 797.57L1511.64 798.85L1512.46 800.11L1513.29 801.38L1514.14 802.63L1515.00 803.87L1515.87 805.11L1516.75 806.34L1517.65 807.55L1518.57 808.75L1519.50 809.94L1520.44 811.12L1521.40 812.29L1522.37 813.44L1523.36 814.57L1524.36 815.69L1525.38 816.79L1526.41 817.88L1527.46 818.94L1528.53 819.99L1529.61 821.02L1530.71 822.03L1531.83 823.01L1532.97 823.98L1534.12 824.93L1535.28 825.85L1536.46 826.76L1537.66 827.64L1538.87 828.51L1540.10 829.35L1541.34 830.18L1542.59 830.99L1543.85 831.78L1545.13 832.55L1546.42 833.31L1547.72 834.05L1549.03 834.77L1550.36 835.47L1551.69 836.16L1553.03 836.83L1554.38 837.49L1555.74 838.13L1557.11 838.75L1558.49 839.36L1559.87 839.96L1561.26 840.54L1562.66 841.11L1564.06 841.67L1565.47 842.21L1566.89 842.74L1568.31 843.25L1569.73 843.76L1571.16 844.25L1572.59 844.73L1574.02 845.20L1575.46 845.66L1576.89 846.11L1578.34 846.54L1579.78 846.97L1581.22 847.39L1582.67 847.79L1584.12 848.19L1585.57 848.58L1587.02 848.96L1588.48 849.33L1589.93 849.69L1591.39 850.04L1592.85 850.38L1594.31 850.72L1595.78 851.05L1597.24 851.36L1598.71 851.68L1600.17 851.98L1601.64 852.28L1603.11 852.57L1604.59 852.85L1606.06 853.13L1607.53 853.40L1609.01 853.67L1610.48 853.93L1611.96 854.18L1613.44 854.43L1614.92 854.67L1616.40 854.91L1617.88 855.14L1619.36 855.37L1620.84 855.59L1622.32 855.81L1623.81 856.02L1625.29 856.23L1626.78 856.44L1628.27 856.64L1629.75 856.83L1631.24 857.02L1632.73 857.21L1634.22 857.39L1635.71 857.56L1637.20 857.74L1638.69 857.91L1640.18 858.07L1641.67 858.23L1643.17 858.39L1644.66 858.55L1646.15 858.70L1647.65 858.84L1649.14 858.99L1650.64 859.13L1652.13 859.26L1653.63 859.40L1655.12 859.53L1656.62 859.66L1658.12 859.78L1659.61 859.90L1661.11 860.02L1662.61 860.14L1664.11 860.25L1665.61 860.37L1667.10 860.47L1668.60 860.58L1670.10 860.69L1671.60 860.79L1673.10 860.89L1674.60 860.99L1676.10 861.08L1677.60 861.18L1679.10 861.27L1680.60 861.36L1682.10 861.45L1683.60 861.54L1685.09 861.63L1686.59 861.71L1688.09 861.79L1689.59 861.88L1691.09 861.96L1692.59 862.04L1694.09 862.12L1695.59 862.20L1697.09 862.28L1698.58 862.35L1700.08 862.43L1701.58 862.51L1703.08 862.58L1704.57 862.66L1706.07 862.73L1707.57 862.81L1709.06 862.88L1710.56 862.96L1712.05 863.03L1713.55 863.11" fill="none" stroke="#ff0000" stroke-width="1.7" stroke-linejoin="round" />
<line x1="920.80" y1="503.30" x2="920.80" y2="863.80" stroke="#6e6e6e" stroke-width="1" />
<line x1="920.30" y1="863.30" x2="1714.10" y2="863.30" stroke="#6e6e6e" stroke-width="1" />
<text x="920.80" y="884.60" font-family='"Liberation Serif", "DejaVu Serif", serif' font-size="17.7" font-weight="bold" text-anchor="middle" fill="#262626" stroke="#262626" stroke-width="0.3" stroke-linejoin="round" >4</text>
<line x1="1019.90" y1="863.30" x2="1019.90" y2="855.30" stroke="#6e6e6e" stroke-width="1" />
<text x="1019.90" y="884.60" font-family='"Liberation Serif", "DejaVu Serif", serif' font-size="17.7" font-weight="bold" text-anchor="middle" fill="#262626" stroke="#262626" stroke-width="0.3" stroke-linejoin="round" >4.5</text>
<line x1="1119.00" y1="863.30" x2="1119.00" y2="855.30" stroke="#6e6e6e" stroke-width="1" />
<text x="1119.00" y="884.60" font-family='"Liberation Serif", "DejaVu Serif", serif' font-size="17.7" font-weight="bold" text-anchor="middle" fill="#262626" stroke="#262626" stroke-width="0.3" stroke-linejoin="round" >5</text>
<line x1="1218.10" y1="863.30" x2="1218.10" y2="855.30" stroke="#6e6e6e" stroke-width="1" />
<text x="1218.10" y="884.60" font-family='"Liberation Serif", "DejaVu Serif", serif' font-size="17.7" font-weight="bold" text-anchor="middle" fill="#262626" stroke="#262626" stroke-width="0.3" stroke-linejoin="round" >5.5</text>
<line x1="1317.20" y1="863.30" x2="1317.20" y2="855.30" stroke="#6e6e6e" stroke-width="1" />
<text x="1317.20" y="884.60" font-family='"Liberation Serif", "DejaVu Serif", serif' font-size="17.7" font-weight="bold" text-anchor="middle" fill="#262626" stroke="#262626" stroke-width="0.3" stroke-linejoin="round" >6</text>
<line x1="1416.30" y1="863.30" x2="1416.30" y2="855.30" stroke="#6e6e6e" stroke-width="1" />
<text x="1416.30" y="884.60" font-family='"Liberation Serif", "DejaVu Serif", serif' font-size="17.7" font-weight="bold" text-anchor="middle" fill="#262626" stroke="#262626" stroke-width="0.3" stroke-linejoin="round" >6.5</text>
<line x1="1515.40" y1="863.30" x2="1515.40" y2="855.30" stroke="#6e6e6e" stroke-width="1" />
<text x="1515.40" y="884.60" font-family='"Liberation Serif", "DejaVu Serif", serif' font-size="17.7" font-weight="bold" text-anchor="middle" fill="#262626" stroke="#262626" stroke-width="0.3" stroke-linejoin="round" >7</text>
<line x1="1614.50" y1="863.30" x2="1614.50" y2="855.30" stroke="#6e6e6e" stroke-width="1" />
<text x="1614.50" y="884.60" font-family='"Liberation Serif", "DejaVu Serif", serif' font-size="17.7" font-weight="bold" text-anchor="middle" fill="#262626" stroke="#262626" stroke-width="0.3" stroke-linejoin="round" >7.5</text>
<line x1="1713.60" y1="863.30" x2="1713.60" y2="855.30" stroke="#6e6e6e" stroke-width="1" />
<text x="1713.60" y="884.60" font-family='"Liberation Serif", "DejaVu Serif", serif' font-size="17.7" font-weight="bold" text-anchor="middle" fill="#262626" stroke="#262626" stroke-width="0.3" stroke-linejoin="round" >8</text>
<text x="915.40" y="870.50" font-family='"Liberation Serif", "DejaVu Serif", serif' font-size="17.7" font-weight="bold" text-anchor="end" fill="#262626" stroke="#262626" stroke-width="0.3" stroke-linejoin="round" >0</text>
<line x1="920.80" y1="791.30" x2="928.80" y2="791.30" stroke="#6e6e6e" stroke-width="1" />
<text x="915.40" y="798.50" font-family='"Liberation Serif", "DejaVu Serif", serif' font-size="17.7" font-weight="bold" text-anchor="end" fill="#262626" stroke="#262626" stroke-width="0.3" stroke-linejoin="round" >0.2</text>
<line x1="920.80" y1="719.30" x2="928.80" y2="719.30" stroke="#6e6e6e" stroke-width="1" />
<text x="915.40" y="726.50" font-family='"Liberation Serif", "DejaVu Serif", serif' font-size="17.7" font-weight="bold" text-anchor="end" fill="#262626" stroke="#262626" stroke-width="0.3" stroke-linejoin="round" >0.4</text>
<line x1="920.80" y1="647.30" x2="928.80" y2="647.30" stroke="#6e6e6e" stroke-width="1" />
<text x="915.40" y="654.50" font-family='"Liberation Serif", "DejaVu Serif", serif' font-size="17.7" font-weight="bold" text-anchor="end" fill="#262626" stroke="#262626" stroke-width="0.3" stroke-linejoin="round" >0.6</text>
<line x1="920.80" y1="575.30" x2="928.80" y2="575.30" stroke="#6e6e6e" stroke-width="1" />
<text x="915.40" y="582.50" font-family='"Liberation Serif", "DejaVu Serif", serif' font-size="17.7" font-weight="bold" text-anchor="end" fill="#262626" stroke="#262626" stroke-width="0.3" stroke-linejoin="round" >0.8</text>
<line x1="920.80" y1="503.30" x2="928.80" y2="503.30" stroke="#6e6e6e" stroke-width="1" />
<text x="915.40" y="510.50" font-family='"Liberation Serif", "DejaVu Serif", serif' font-size="17.7" font-weight="bold" text-anchor="end" fill="#262626" stroke="#262626" stroke-width="0.3" stroke-linejoin="round" >1</text>
<text x="1317.80" y="909.10" font-family='"Liberation Serif", "DejaVu Serif", serif' font-size="19.8" font-weight="bold" text-anchor="middle" fill="#262626" stroke="#262626" stroke-width="0.3" stroke-linejoin="round" >Frequency/GHz</text>
<text transform="translate(887.90 681.80) rotate(-90)" font-family='"Liberation Serif", "DejaVu Serif", serif' font-size="19.6" font-weight="bold" text-anchor="middle" fill="#262626" stroke="#262626" stroke-width="0.3" stroke-linejoin="round">Absorbance</text>
<rect x="1570.50" y="509.50" width="137.00" height="57.00" fill="#fff" stroke="#4a4a4a" stroke-width="1"/>
<line x1="1572.40" y1="519.90" x2="1594.00" y2="519.90" stroke="#000" stroke-width="2.1" stroke-dasharray="4.4 1.2 1.9 1.3"/>
<text x="1595.80" y="525.20" font-family='"Liberation Serif", "DejaVu Serif", serif' font-size="15.95" font-weight="bold" text-anchor="start" fill="#000" stroke="#000" stroke-width="0.3" stroke-linejoin="round" >EM Simulation</text>
<line x1="1572.40" y1="538.40" x2="1594.00" y2="538.40" stroke="#0000ff" stroke-width="2.0" stroke-dasharray="4.8 3.8"/>
<text x="1595.80" y="543.70" font-family='"Liberation Serif", "DejaVu Serif", serif' font-size="15.95" font-weight="bold" text-anchor="start" fill="#000" stroke="#000" stroke-width="0.3" stroke-linejoin="round" >MLP prediction</text>
<line x1="1572.40" y1="556.90" x2="1594.00" y2="556.90" stroke="#ff0000" stroke-width="1.7" />
<text x="1595.80" y="562.20" font-family='"Liberation Serif", "DejaVu Serif", serif' font-size="15.95" font-weight="bold" text-anchor="start" fill="#000" stroke="#000" stroke-width="0.3" stroke-linejoin="round" >MetaPhyNet</text>
<text transform="translate(32.20 19.20) scale(0.88 1)" font-family='"Liberation Sans", "DejaVu Sans", sans-serif' font-size="26" font-weight="bold" fill="#000" stroke="#000" stroke-width="0.35" stroke-linejoin="round">a</text>
<text transform="translate(590.40 19.30) scale(0.95 1)" font-family='"Liberation Sans", "DejaVu Sans", sans-serif' font-size="26" font-weight="bold" fill="#000" stroke="#000" stroke-width="0.35" stroke-linejoin="round">b</text>
<text transform="translate(1153.60 24.40) scale(0.87 1)" font-family='"Liberation Sans", "DejaVu Sans", sans-serif' font-size="26" font-weight="bold" fill="#000" stroke="#000" stroke-width="0.35" stroke-linejoin="round">c</text>
<text transform="translate(13.00 503.30) scale(0.97 1)" font-family='"Liberation Sans", "DejaVu Sans", sans-serif' font-size="26" font-weight="bold" fill="#000" stroke="#000" stroke-width="0.35" stroke-linejoin="round">d</text>
<text transform="translate(874.80 503.90) scale(0.97 1)" font-family='"Liberation Sans", "DejaVu Sans", sans-serif' font-size="26" font-weight="bold" fill="#000" stroke="#000" stroke-width="0.35" stroke-linejoin="round">e</text>
<rect x="868" y="911" width="2" height="2" fill="#5c5c64"/>
</svg>
</body></html>
